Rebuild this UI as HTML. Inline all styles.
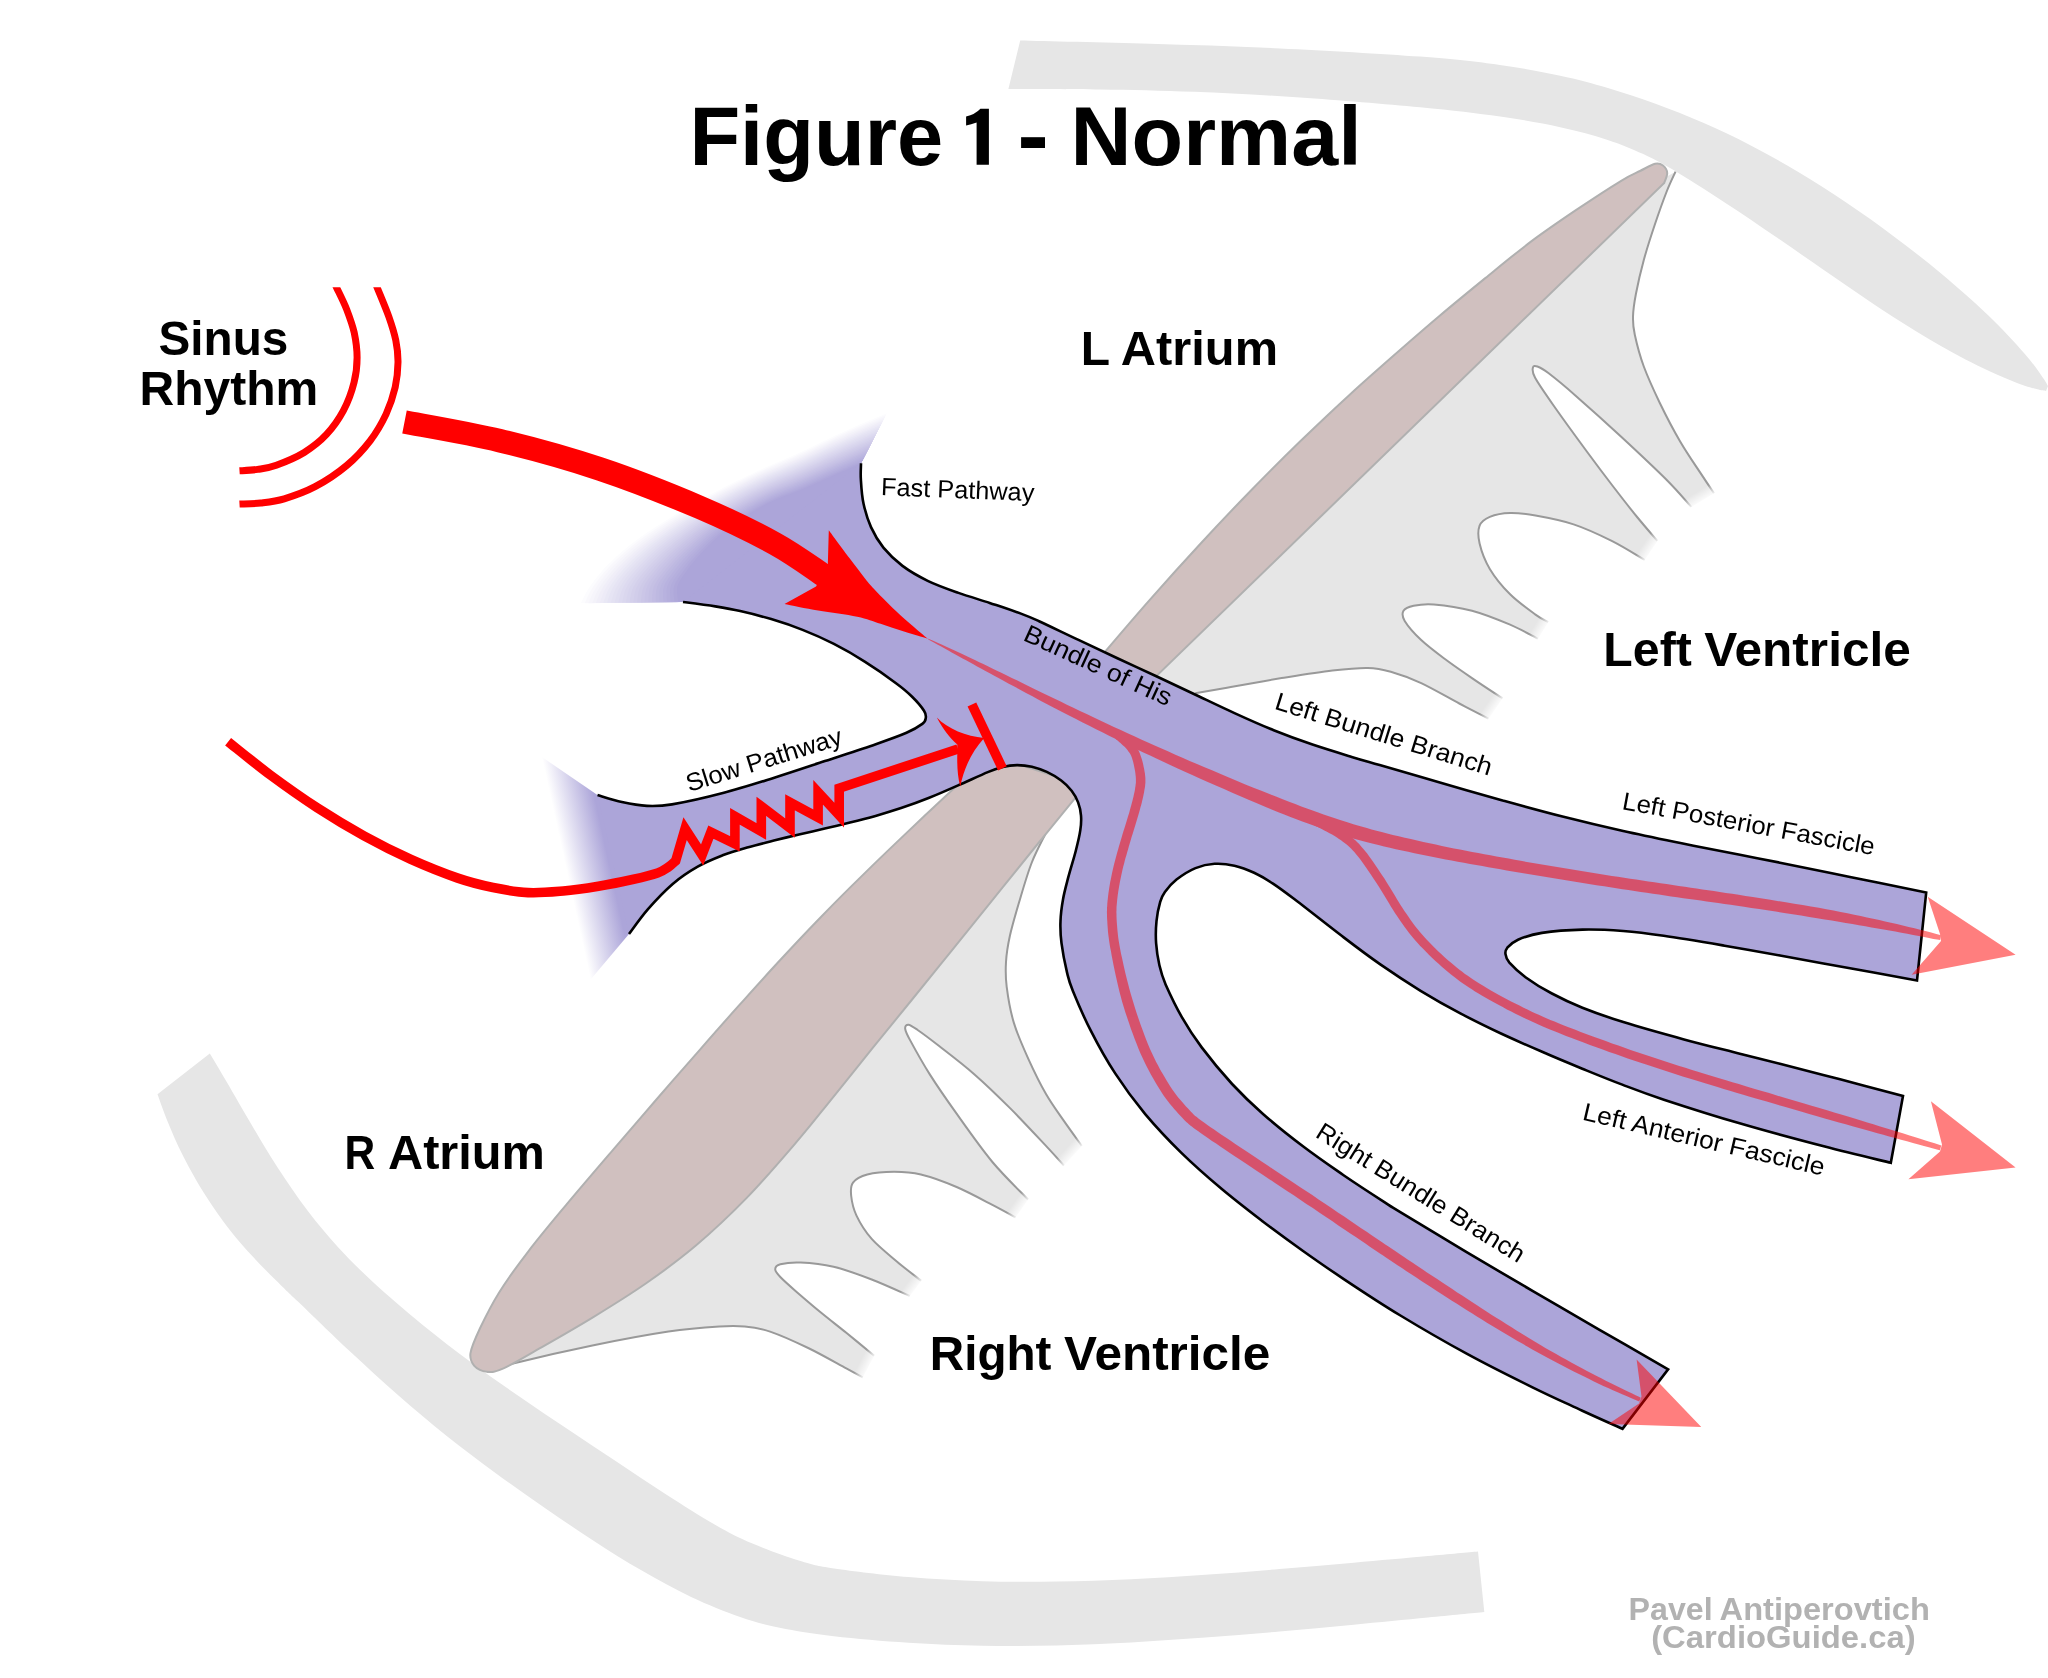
<!DOCTYPE html>
<html><head><meta charset="utf-8"><title>Figure 1 - Normal</title>
<style>
html,body{margin:0;padding:0;background:#fff;}
body{width:2048px;height:1678px;overflow:hidden;}
svg{display:block;font-family:"Liberation Sans",sans-serif;}
</style></head>
<body>
<svg width="2048" height="1678" viewBox="0 0 2048 1678">
<rect width="2048" height="1678" fill="#ffffff"/>
<path d="M1020.2 40.5C1041.8 41 1106.7 42.5 1150 43.8C1193.3 45.1 1235 46.3 1280 48.4C1325.1 50.5 1383.4 53.8 1420.1 56.6C1456.7 59.3 1476.5 61.8 1499.8 65C1523.2 68.2 1542.2 71.9 1560.2 75.7C1578.2 79.5 1592 83.3 1607.9 87.9C1623.8 92.6 1639.6 97.9 1655.5 103.7C1671.3 109.5 1687.3 115.8 1703.2 122.8C1719 129.7 1734.9 137.2 1750.8 145.5C1766.6 153.7 1782.4 162.5 1798.3 172C1814.2 181.5 1830.2 191.8 1846.2 202.6C1862.2 213.3 1878.3 224.8 1894.2 236.7C1910.1 248.6 1926 260.8 1941.7 273.9C1957.4 287 1974.7 302.3 1988.4 315.5C2002.2 328.7 2015.2 342.9 2024.2 353.2C2033.3 363.5 2038.8 371.9 2042.7 377.4C2046.7 382.8 2047.1 384.6 2048 386L2046 391C2044.4 390.7 2042.1 390.7 2036.6 389.1C2031 387.5 2024.7 386.2 2012.8 381.2C2001 376.3 1981.4 367.6 1965.5 359.4C1949.5 351.2 1933.2 341.7 1917.2 332C1901.2 322.3 1885.3 311.7 1869.4 301.2C1853.5 290.6 1837.8 279.6 1822 268.7C1806.1 257.9 1790.4 246.8 1774.6 236C1758.8 225.2 1742.9 214.2 1727 203.9C1711.1 193.5 1693.4 182 1679.5 173.7C1665.5 165.4 1655.3 159.8 1643.3 154.1C1631.3 148.5 1621.5 144.4 1607.7 139.9C1593.8 135.4 1578.1 131 1560.2 127.2C1542.3 123.3 1523.4 119.9 1500.1 116.6C1476.7 113.3 1453.4 110.5 1420.1 107.3C1386.7 104.1 1337.7 100.1 1300.1 97.5C1262.5 94.9 1227.7 93.1 1194.4 91.8C1161 90.4 1131 89.9 1100 89.4C1069 88.9 1023.7 89 1008.4 88.9Z" fill="#e6e6e6"/>
<path d="M209.8 1053.6C212.6 1058.2 219.2 1069.2 226.3 1081.3C233.4 1093.4 244 1112 252.6 1126.4C261.1 1140.8 268.5 1153.6 277.6 1167.6C286.8 1181.6 297.4 1197.3 307.5 1210.6C317.6 1223.9 327.2 1235.4 338.1 1247.2C349 1259.1 358.9 1269 372.9 1281.9C386.9 1294.7 405.8 1311 422.1 1324.4C438.5 1337.7 454.8 1350.2 471 1362.2C487.3 1374.3 503.4 1385.5 519.7 1396.7C535.9 1408 552.3 1418.8 568.6 1429.7C584.8 1440.6 600.9 1451.3 617.1 1462.1C633.3 1472.9 649.4 1483.8 665.8 1494.2C682.2 1504.7 701 1516.7 715.5 1524.9C729.9 1533.1 738.4 1537.5 752.5 1543.5C766.5 1549.5 786.2 1556.6 799.7 1560.8C813.3 1565 815.8 1565.8 834 1568.5C852.1 1571.2 883.6 1575 908.4 1577.1C933.2 1579.2 957.8 1580.5 982.6 1581.2C1007.3 1582 1032.1 1582 1056.9 1581.6C1081.6 1581.3 1106.4 1580.3 1131.1 1579.2C1155.8 1578 1180.6 1576.4 1205.3 1574.7C1230 1573.1 1254.8 1571.1 1279.5 1569.1C1304.2 1567.1 1329 1564.9 1353.7 1562.8C1378.5 1560.6 1407.2 1558 1427.9 1556.1C1448.6 1554.3 1469.7 1552.4 1478 1551.6L1484.3 1612.1C1474.9 1613 1449.7 1615.5 1427.9 1617.6C1406.2 1619.7 1378.4 1622.4 1353.7 1624.7C1329 1627 1304.2 1629.3 1279.5 1631.5C1254.8 1633.6 1230 1635.7 1205.3 1637.6C1180.6 1639.4 1155.9 1641.1 1131.1 1642.5C1106.4 1643.8 1081.6 1644.9 1056.9 1645.5C1032.1 1646 1007.3 1646.2 982.6 1645.7C957.8 1645.3 933.2 1644.3 908.4 1642.7C883.6 1641.1 855.3 1638.7 833.9 1636.2C812.5 1633.7 795.4 1630.9 779.7 1627.7C764.1 1624.5 754.8 1622.1 740.1 1617C725.3 1611.8 707.5 1604.6 691.1 1596.9C674.7 1589.1 658.1 1580.1 641.8 1570.6C625.4 1561.2 609.1 1550.8 592.8 1540.2C576.5 1529.6 560.1 1518.5 543.8 1507.2C527.6 1496 511.4 1484.6 495.1 1472.7C478.9 1460.7 462.5 1448.5 446.4 1435.7C430.3 1422.8 414.7 1409.8 398.5 1395.6C382.3 1381.5 366.1 1366.4 349.3 1350.8C332.6 1335.2 310.4 1313.6 298.2 1301.8C285.9 1290.1 283.4 1287.7 275.9 1280.2C268.4 1272.8 260.9 1265.5 253.2 1257C245.4 1248.6 237.4 1239.7 229.4 1229.4C221.4 1219.1 213.1 1207.6 205.4 1195.3C197.6 1183 189.3 1168 183 1155.7C176.7 1143.4 171.9 1131.7 167.6 1121.4C163.4 1111.2 159.2 1098.7 157.5 1094.2Z" fill="#e6e6e6"/>
<path d="M1675.5 171.7C1674 175.1 1669.9 183.3 1666.5 192C1663.1 200.7 1658.9 212.5 1655.1 223.8C1651.3 235.1 1647 248.3 1643.8 260C1640.6 271.7 1637.7 284.6 1635.9 294C1634.1 303.4 1633.2 309.8 1633 316.6C1632.8 323.4 1633 326.5 1634.8 334.8C1636.6 343.1 1639.6 355.2 1643.8 366.5C1648 377.8 1653.7 390.2 1659.7 402.7C1665.7 415.1 1673.2 429.5 1680 441.2C1686.8 452.9 1694.7 464.2 1700.4 472.9C1706.1 481.6 1711.7 489.9 1714 493.3L1691.4 506.9C1687.2 502.4 1678.2 491.4 1666.5 479.7C1654.8 468 1636.3 450.7 1621.2 436.7C1606.1 422.7 1588 406.5 1575.9 395.9C1563.8 385.3 1555.1 378.2 1548.7 373.3C1542.3 368.4 1540 367.4 1537.4 366.5C1534.8 365.6 1533.3 365.7 1532.9 367.6C1532.5 369.5 1531.7 371.6 1535.1 377.8C1538.5 384 1544.5 392.6 1553.2 405C1561.9 417.4 1577.4 438.7 1587.2 452C1597 465.3 1603.7 474.2 1612 485C1620.3 495.8 1629.5 507.7 1637.1 517C1644.7 526.3 1654 536.9 1657.4 540.9L1644.7 560C1639.2 556.8 1623.6 546.8 1611.7 540.9C1599.8 535 1586.3 528.6 1573.6 524.4C1560.9 520.2 1546.1 517.5 1535.5 515.6C1524.9 513.7 1517.7 512.8 1510.1 513C1502.5 513.2 1494.9 514.7 1489.8 516.8C1484.7 518.9 1481.3 521.2 1479.6 525.7C1477.9 530.2 1477.9 536.3 1479.6 543.5C1481.3 550.7 1484.7 560.4 1489.8 568.9C1494.9 577.4 1502.5 586.7 1510.1 594.3C1517.7 601.9 1529.2 610 1535.5 614.6C1541.8 619.2 1546.1 620.9 1548.2 622.2L1538 638.7C1533.3 636.4 1521.1 629.4 1510.1 624.7C1499.1 620.1 1484.7 614.2 1472 610.8C1459.3 607.4 1443.6 605.2 1433.9 604.4C1424.2 603.5 1418.7 604.6 1413.6 605.7C1408.5 606.8 1405 608.3 1403.5 610.8C1402 613.3 1401.8 616 1404.7 620.9C1407.7 625.8 1414.2 633.4 1421.2 640C1428.2 646.6 1438.1 653.9 1446.6 660.3C1455.1 666.6 1462.7 671.8 1472 678.1C1481.3 684.5 1497.4 695 1502.5 698.4L1488.5 718.7C1483.6 716.2 1470.5 709.4 1459.3 703.5C1448.1 697.6 1432.6 688.4 1421.2 683.1C1409.8 677.8 1399.7 674.2 1390.8 671.7C1381.9 669.2 1377.6 668.1 1367.9 667.9C1358.2 667.7 1346.8 668.8 1332.4 670.5C1318 672.2 1298.5 675.4 1281.6 678.1C1264.7 680.9 1245.2 684.5 1230.8 687C1216.4 689.5 1201.1 692.2 1195.2 693.3L1140 692L1666 177Z" fill="#e6e6e6"/>
<path d="M1675.5 171.7C1674 175.1 1669.9 183.3 1666.5 192C1663.1 200.7 1658.9 212.5 1655.1 223.8C1651.3 235.1 1647 248.3 1643.8 260C1640.6 271.7 1637.7 284.6 1635.9 294C1634.1 303.4 1633.2 309.8 1633 316.6C1632.8 323.4 1633 326.5 1634.8 334.8C1636.6 343.1 1639.6 355.2 1643.8 366.5C1648 377.8 1653.7 390.2 1659.7 402.7C1665.7 415.1 1673.2 429.5 1680 441.2C1686.8 452.9 1694.7 464.2 1700.4 472.9C1706.1 481.6 1711.7 489.9 1714 493.3M1691.4 506.9C1687.2 502.4 1678.2 491.4 1666.5 479.7C1654.8 468 1636.3 450.7 1621.2 436.7C1606.1 422.7 1588 406.5 1575.9 395.9C1563.8 385.3 1555.1 378.2 1548.7 373.3C1542.3 368.4 1540 367.4 1537.4 366.5C1534.8 365.6 1533.3 365.7 1532.9 367.6C1532.5 369.5 1531.7 371.6 1535.1 377.8C1538.5 384 1544.5 392.6 1553.2 405C1561.9 417.4 1577.4 438.7 1587.2 452C1597 465.3 1603.7 474.2 1612 485C1620.3 495.8 1629.5 507.7 1637.1 517C1644.7 526.3 1654 536.9 1657.4 540.9M1644.7 560C1639.2 556.8 1623.6 546.8 1611.7 540.9C1599.8 535 1586.3 528.6 1573.6 524.4C1560.9 520.2 1546.1 517.5 1535.5 515.6C1524.9 513.7 1517.7 512.8 1510.1 513C1502.5 513.2 1494.9 514.7 1489.8 516.8C1484.7 518.9 1481.3 521.2 1479.6 525.7C1477.9 530.2 1477.9 536.3 1479.6 543.5C1481.3 550.7 1484.7 560.4 1489.8 568.9C1494.9 577.4 1502.5 586.7 1510.1 594.3C1517.7 601.9 1529.2 610 1535.5 614.6C1541.8 619.2 1546.1 620.9 1548.2 622.2M1538 638.7C1533.3 636.4 1521.1 629.4 1510.1 624.7C1499.1 620.1 1484.7 614.2 1472 610.8C1459.3 607.4 1443.6 605.2 1433.9 604.4C1424.2 603.5 1418.7 604.6 1413.6 605.7C1408.5 606.8 1405 608.3 1403.5 610.8C1402 613.3 1401.8 616 1404.7 620.9C1407.7 625.8 1414.2 633.4 1421.2 640C1428.2 646.6 1438.1 653.9 1446.6 660.3C1455.1 666.6 1462.7 671.8 1472 678.1C1481.3 684.5 1497.4 695 1502.5 698.4M1488.5 718.7C1483.6 716.2 1470.5 709.4 1459.3 703.5C1448.1 697.6 1432.6 688.4 1421.2 683.1C1409.8 677.8 1399.7 674.2 1390.8 671.7C1381.9 669.2 1377.6 668.1 1367.9 667.9C1358.2 667.7 1346.8 668.8 1332.4 670.5C1318 672.2 1298.5 675.4 1281.6 678.1C1264.7 680.9 1245.2 684.5 1230.8 687C1216.4 689.5 1201.1 692.2 1195.2 693.3" fill="none" stroke="#999999" stroke-width="2"/>
<path d="M1045 834.7C1042.8 839.3 1036 851.8 1031.8 862.5C1027.6 873.2 1023.6 887 1020 899.2C1016.4 911.4 1012.2 925.3 1009.9 935.8C1007.6 946.3 1006.5 953.5 1006 962C1005.5 970.5 1005.4 976.7 1006.7 986.8C1008 996.9 1010.2 1010.7 1013.8 1022.6C1017.4 1034.5 1022.7 1046.4 1028.1 1058.3C1033.5 1070.2 1040 1083.6 1046 1094C1052 1104.4 1057.9 1112.2 1063.9 1120.9C1069.9 1129.6 1078.8 1141.7 1081.8 1145.9L1063.9 1165.6C1060.9 1162.3 1054.9 1155.4 1046 1145.9C1037.1 1136.4 1022.2 1120.3 1010.3 1108.4C998.4 1096.5 986.4 1084.8 974.5 1074.4C962.6 1064 948.3 1053.2 938.8 1045.8C929.3 1038.3 922.4 1033.2 917.3 1029.7C912.2 1026.2 910.4 1024.9 908.4 1024.7C906.4 1024.5 904.9 1026.2 905.2 1028.8C905.5 1031.4 906.1 1032.8 910.2 1040.4C914.3 1048 922.1 1062.2 929.8 1074.4C937.5 1086.6 946.2 1099.1 956.6 1113.7C967 1128.3 980.5 1147.7 992.4 1162C1004.3 1176.3 1022.1 1193.2 1028.1 1199.5L1015.6 1217.4C1011.7 1215.3 1002.2 1210 992.4 1204.9C982.6 1199.8 968.5 1192.1 956.6 1187C944.7 1181.9 931.3 1177 920.9 1174.5C910.5 1172 903 1171.8 894.1 1171.8C885.2 1171.8 874.1 1172.7 867.3 1174.5C860.4 1176.3 855.7 1179 853 1182.6C850.3 1186.2 850.6 1190.5 851.2 1196C851.8 1201.5 853.1 1208.4 856.5 1215.6C859.9 1222.8 864.9 1231.2 871.7 1238.9C878.5 1246.6 888.9 1254.7 897.1 1261.7C905.4 1268.7 917.2 1277.6 921.2 1280.8L909.8 1296C903.4 1293.2 884.4 1284.4 871.7 1279.5C859 1274.6 845.5 1269.6 833.6 1266.8C821.8 1264 809.5 1262.9 800.6 1262.5C791.7 1262.1 784.5 1263.2 780.3 1264.3C776.1 1265.4 775.2 1267.2 775.2 1269.3C775.2 1271.4 776.9 1273.4 780.3 1277C783.7 1280.6 788.7 1285 795.5 1290.9C802.3 1296.8 812.4 1305.5 820.9 1312.5C829.4 1319.5 837.4 1325.6 846.3 1332.8C855.2 1340 869.6 1351.9 874.2 1355.7L862.8 1377.3C860 1375.8 855.4 1373.3 846.3 1368.4C837.2 1363.5 820.9 1354.1 808.2 1348C795.5 1341.9 780.7 1335.2 770.1 1331.6C759.5 1328 753.2 1327.3 744.7 1326.5C736.2 1325.7 732 1325.7 719.3 1326.5C706.6 1327.3 689.6 1328.4 668.5 1331.6C647.4 1334.8 617.8 1340.3 592.4 1345.5C567 1350.7 533.8 1358.4 516.2 1362.8C498.6 1367.2 491.9 1370.2 487 1371.7L560 1290L1075 798Z" fill="#e6e6e6"/>
<path d="M1045 834.7C1042.8 839.3 1036 851.8 1031.8 862.5C1027.6 873.2 1023.6 887 1020 899.2C1016.4 911.4 1012.2 925.3 1009.9 935.8C1007.6 946.3 1006.5 953.5 1006 962C1005.5 970.5 1005.4 976.7 1006.7 986.8C1008 996.9 1010.2 1010.7 1013.8 1022.6C1017.4 1034.5 1022.7 1046.4 1028.1 1058.3C1033.5 1070.2 1040 1083.6 1046 1094C1052 1104.4 1057.9 1112.2 1063.9 1120.9C1069.9 1129.6 1078.8 1141.7 1081.8 1145.9M1063.9 1165.6C1060.9 1162.3 1054.9 1155.4 1046 1145.9C1037.1 1136.4 1022.2 1120.3 1010.3 1108.4C998.4 1096.5 986.4 1084.8 974.5 1074.4C962.6 1064 948.3 1053.2 938.8 1045.8C929.3 1038.3 922.4 1033.2 917.3 1029.7C912.2 1026.2 910.4 1024.9 908.4 1024.7C906.4 1024.5 904.9 1026.2 905.2 1028.8C905.5 1031.4 906.1 1032.8 910.2 1040.4C914.3 1048 922.1 1062.2 929.8 1074.4C937.5 1086.6 946.2 1099.1 956.6 1113.7C967 1128.3 980.5 1147.7 992.4 1162C1004.3 1176.3 1022.1 1193.2 1028.1 1199.5M1015.6 1217.4C1011.7 1215.3 1002.2 1210 992.4 1204.9C982.6 1199.8 968.5 1192.1 956.6 1187C944.7 1181.9 931.3 1177 920.9 1174.5C910.5 1172 903 1171.8 894.1 1171.8C885.2 1171.8 874.1 1172.7 867.3 1174.5C860.4 1176.3 855.7 1179 853 1182.6C850.3 1186.2 850.6 1190.5 851.2 1196C851.8 1201.5 853.1 1208.4 856.5 1215.6C859.9 1222.8 864.9 1231.2 871.7 1238.9C878.5 1246.6 888.9 1254.7 897.1 1261.7C905.4 1268.7 917.2 1277.6 921.2 1280.8M909.8 1296C903.4 1293.2 884.4 1284.4 871.7 1279.5C859 1274.6 845.5 1269.6 833.6 1266.8C821.8 1264 809.5 1262.9 800.6 1262.5C791.7 1262.1 784.5 1263.2 780.3 1264.3C776.1 1265.4 775.2 1267.2 775.2 1269.3C775.2 1271.4 776.9 1273.4 780.3 1277C783.7 1280.6 788.7 1285 795.5 1290.9C802.3 1296.8 812.4 1305.5 820.9 1312.5C829.4 1319.5 837.4 1325.6 846.3 1332.8C855.2 1340 869.6 1351.9 874.2 1355.7M862.8 1377.3C860 1375.8 855.4 1373.3 846.3 1368.4C837.2 1363.5 820.9 1354.1 808.2 1348C795.5 1341.9 780.7 1335.2 770.1 1331.6C759.5 1328 753.2 1327.3 744.7 1326.5C736.2 1325.7 732 1325.7 719.3 1326.5C706.6 1327.3 689.6 1328.4 668.5 1331.6C647.4 1334.8 617.8 1340.3 592.4 1345.5C567 1350.7 533.8 1358.4 516.2 1362.8C498.6 1367.2 491.9 1370.2 487 1371.7" fill="none" stroke="#999999" stroke-width="2"/>
<linearGradient id="fd6" gradientUnits="userSpaceOnUse" x1="1697.5" y1="491.5" x2="1703.7" y2="501.8"><stop offset="0" stop-color="#fff" stop-opacity="0"/><stop offset="1" stop-color="#fff"/></linearGradient>
<path d="M1682 500.9L1713.1 482.2L1726.5 504.4L1695.4 523.2Z" fill="url(#fd6)"/>
<linearGradient id="fd8" gradientUnits="userSpaceOnUse" x1="1642.7" y1="544.9" x2="1652.7" y2="551.6"><stop offset="0" stop-color="#fff" stop-opacity="0"/><stop offset="1" stop-color="#fff"/></linearGradient>
<path d="M1633.6 558.6L1651.8 531.2L1673.5 545.6L1655.3 573Z" fill="url(#fd8)"/>
<linearGradient id="fd10" gradientUnits="userSpaceOnUse" x1="1534.6" y1="625.2" x2="1544.8" y2="631.5"><stop offset="0" stop-color="#fff" stop-opacity="0"/><stop offset="1" stop-color="#fff"/></linearGradient>
<path d="M1526.9 637.7L1542.3 612.7L1564.4 626.4L1549 651.4Z" fill="url(#fd10)"/>
<linearGradient id="fd12" gradientUnits="userSpaceOnUse" x1="1487.3" y1="702.9" x2="1497.1" y2="709.7"><stop offset="0" stop-color="#fff" stop-opacity="0"/><stop offset="1" stop-color="#fff"/></linearGradient>
<path d="M1477.4 717.1L1497.1 688.6L1518.5 703.4L1498.8 731.9Z" fill="url(#fd12)"/>
<linearGradient id="fd14" gradientUnits="userSpaceOnUse" x1="1065.4" y1="1149" x2="1074.3" y2="1157.1"><stop offset="0" stop-color="#fff" stop-opacity="0"/><stop offset="1" stop-color="#fff"/></linearGradient>
<path d="M1053.1 1162.6L1077.8 1135.5L1097 1153L1072.4 1180.1Z" fill="url(#fd14)"/>
<linearGradient id="fd16" gradientUnits="userSpaceOnUse" x1="1013.7" y1="1202.7" x2="1023.5" y2="1209.6"><stop offset="0" stop-color="#fff" stop-opacity="0"/><stop offset="1" stop-color="#fff"/></linearGradient>
<path d="M1004.5 1215.8L1022.8 1189.7L1044.1 1204.6L1025.9 1230.7Z" fill="url(#fd16)"/>
<linearGradient id="fd18" gradientUnits="userSpaceOnUse" x1="907.5" y1="1282.4" x2="917.1" y2="1289.6"><stop offset="0" stop-color="#fff" stop-opacity="0"/><stop offset="1" stop-color="#fff"/></linearGradient>
<path d="M898.8 1294L916.2 1270.8L937 1286.4L919.6 1309.6Z" fill="url(#fd18)"/>
<linearGradient id="fd20" gradientUnits="userSpaceOnUse" x1="859.7" y1="1361.8" x2="870.3" y2="1367.4"><stop offset="0" stop-color="#fff" stop-opacity="0"/><stop offset="1" stop-color="#fff"/></linearGradient>
<path d="M851.6 1377.1L867.7 1346.6L890.7 1358.7L874.6 1389.2Z" fill="url(#fd20)"/>
<path d="M1085 675.9C1088.5 671.7 1095.4 663.2 1106.2 650.5C1117 637.8 1134.4 617.4 1150 599.7C1165.6 581.9 1183.3 562.2 1200 544.2C1216.7 526.1 1233.3 508.6 1250 491.5C1266.7 474.4 1283.3 457.7 1300 441.5C1316.7 425.4 1333.3 409.6 1350 394.4C1366.7 379.1 1385 363.1 1400 350C1415 336.9 1425.8 327.5 1440 315.5C1454.2 303.5 1470.2 290.4 1485.3 278.1C1500.4 265.8 1515.5 253.2 1530.6 241.9C1545.7 230.6 1560.8 220.4 1575.9 210.2C1591 200 1610.5 187.3 1621.2 180.8C1631.9 174.3 1634.3 173.8 1640 171C1645.7 168.2 1651.3 164.7 1655.1 163.8C1658.9 162.9 1661 164 1663 165.5C1665 167 1667 170.1 1667.2 173C1667.4 175.9 1664.7 181.3 1664.2 183L1140 692Z" fill="#d0c0bf" stroke="#b0b0b0" stroke-width="2"/>
<path d="M1085 786C1083.3 788 1083.5 787.7 1075.1 798.1C1066.7 808.4 1048 831.3 1034.4 848C1020.9 864.8 1007.2 881.7 993.6 898.6C980 915.5 966.4 932.4 952.7 949.3C939 966.2 925.1 983.4 911.7 1000C898.2 1016.6 885.1 1032.7 871.9 1048.9C858.8 1065.2 845.3 1082.2 832.8 1097.6C820.2 1113.1 811.1 1125.1 796.8 1141.7C782.5 1158.4 764 1180.1 747.2 1197.4C730.4 1214.7 712.8 1231.2 695.9 1245.6C679 1259.9 662.9 1271.6 645.8 1283.5C628.7 1295.4 610.8 1306.4 593.3 1317.1C575.8 1327.8 555.8 1339.2 540.9 1347.7C525.9 1356.3 512.5 1364.4 503.5 1368.4C494.5 1372.4 491.9 1372.1 487 1371.7C482.1 1371.3 477.1 1368.9 474.3 1365.8C471.6 1362.7 469.6 1359.3 470.5 1353.1C471.4 1346.9 475.2 1338.5 479.9 1328.5C484.7 1318.4 491 1305.5 499 1292.7C507.1 1279.8 517.2 1265.8 528.4 1251.3C539.5 1236.7 551.9 1222 566 1205.1C580.1 1188.2 597.8 1167.6 612.8 1150.1C627.8 1132.6 641.5 1116.7 656 1100C670.5 1083.3 685.8 1065.7 699.8 1049.8C713.7 1033.9 726.3 1019.6 739.7 1004.7C753.1 989.8 766.6 974.7 780 960.3C793.4 945.8 806.7 931.7 820 918C833.3 904.2 846.5 891 859.9 877.9C873.2 864.7 885 853.4 900 839.1C915 824.8 934.8 806.3 949.8 792.2C964.8 778.2 983.3 761.2 990 755Z" fill="#d0c0bf" stroke="#b0b0b0" stroke-width="2"/>
<path d="M887.9 411.3L883.2 413.3L876.6 416L868.9 419.3L860.5 422.8L852.1 426.4L844.3 429.9L837 433.3L829.6 436.8L822.2 440.4L814.8 444.1L807.3 447.7L799.8 451.2L792.2 454.6L784.5 458L776.7 461.3L768.9 464.6L761.2 468L753.4 471.6L745.6 475.3L737.6 479.2L729.6 483.1L721.8 487.1L714.2 491L707 494.8L700.3 498.4L693.9 502L687.9 505.4L681.9 508.9L676 512.5L669.9 516.2L663.6 520.1L657.2 524L650.8 528.1L644.5 532.2L638.5 536.3L632.8 540.3L627.5 544.3L622.5 548.4L617.7 552.5L613.2 556.5L608.9 560.5L604.9 564.4L601.2 568.3L597.7 572.2L594.5 576L591.5 579.7L588.8 583.3L586.4 586.7L584.2 590L582.3 593.3L580.6 596.4L579.2 599.3L578 601.6L577.1 603.4L683 602L700 600L861 463.3Z" fill="#ffffff"/>
<path d="M886.9 413.2L882.2 415.2L875.7 417.9L868.1 421.1L859.8 424.6L851.5 428.2L843.8 431.7L836.5 435L829.2 438.5L821.9 442L814.6 445.6L807.2 449.2L799.8 452.6L792.3 456L784.7 459.3L777.1 462.6L769.4 465.8L761.7 469.2L754.1 472.7L746.4 476.4L738.5 480.2L730.7 484.1L722.9 488L715.5 491.9L708.4 495.6L701.7 499.2L695.5 502.8L689.5 506.2L683.6 509.7L677.7 513.3L671.7 517L665.5 520.8L659.2 524.8L652.9 528.8L646.7 532.8L640.8 536.9L635.2 540.9L630 544.9L625.1 548.9L620.4 553L615.9 556.9L611.8 560.9L607.9 564.7L604.2 568.6L600.8 572.4L597.7 576.2L594.8 579.8L592.1 583.4L589.8 586.7L587.6 590L585.8 593.3L584.2 596.4L582.8 599.2L581.7 601.6L580.8 603.3L683 602L700 600L861 463.3Z" fill="#fcfcfe"/>
<path d="M885.9 415.2L881.3 417.1L874.9 419.8L867.3 423L859.1 426.5L850.9 430L843.2 433.4L836 436.7L828.8 440.2L821.6 443.7L814.4 447.2L807.1 450.7L799.8 454.1L792.4 457.4L784.9 460.6L777.4 463.8L769.8 467L762.3 470.4L754.8 473.8L747.2 477.4L739.4 481.2L731.7 485L724.1 488.9L716.7 492.7L709.7 496.5L703.2 500L697 503.5L691 507L685.2 510.5L679.4 514L673.5 517.7L667.4 521.5L661.1 525.5L654.9 529.5L648.9 533.5L643.1 537.6L637.6 541.5L632.5 545.5L627.7 549.5L623.1 553.5L618.7 557.4L614.6 561.3L610.8 565.1L607.2 568.9L603.9 572.6L600.8 576.3L598 579.9L595.4 583.4L593.1 586.7L591.1 589.9L589.3 593.2L587.8 596.3L586.5 599.2L585.4 601.5L584.6 603.3L683 602L700 600L861 463.3Z" fill="#f9f8fc"/>
<path d="M884.9 417.1L880.3 419L874 421.7L866.5 424.8L858.4 428.3L850.2 431.8L842.7 435.2L835.6 438.4L828.5 441.8L821.4 445.3L814.2 448.7L807 452.2L799.8 455.5L792.5 458.8L785.1 462L777.7 465.1L770.3 468.3L762.9 471.5L755.5 474.9L748 478.5L740.4 482.2L732.8 486L725.3 489.8L718 493.6L711.1 497.3L704.6 500.8L698.5 504.3L692.6 507.8L686.9 511.3L681.1 514.8L675.3 518.5L669.2 522.3L663.1 526.2L657 530.2L651.1 534.2L645.4 538.2L640 542.2L635 546.1L630.3 550L625.8 553.9L621.5 557.8L617.5 561.7L613.8 565.4L610.3 569.1L607 572.8L604 576.5L601.2 580L598.7 583.5L596.5 586.7L594.5 589.9L592.8 593.2L591.3 596.3L590.1 599.1L589.1 601.5L588.3 603.2L683 602L700 600L861 463.3Z" fill="#f6f5fb"/>
<path d="M883.9 419L879.4 420.9L873.1 423.6L865.7 426.7L857.6 430.1L849.6 433.6L842.1 436.9L835.1 440.1L828.1 443.5L821.1 446.9L814 450.3L806.9 453.7L799.8 457L792.6 460.2L785.4 463.3L778.1 466.4L770.8 469.5L763.4 472.7L756.2 476L748.8 479.5L741.3 483.2L733.8 486.9L726.4 490.7L719.3 494.4L712.5 498.1L706.1 501.7L700 505.1L694.2 508.6L688.5 512L682.8 515.6L677 519.2L671.1 523L665.1 526.9L659.1 530.9L653.3 534.9L647.7 538.9L642.4 542.8L637.5 546.7L632.9 550.6L628.5 554.4L624.3 558.3L620.4 562.1L616.7 565.8L613.3 569.4L610.1 573.1L607.2 576.7L604.5 580.1L602 583.5L599.9 586.7L598 589.9L596.3 593.1L594.9 596.2L593.8 599L592.8 601.4L592.1 603.1L683 602L700 600L861 463.3Z" fill="#f3f2f9"/>
<path d="M882.9 420.9L878.4 422.8L872.2 425.5L864.8 428.6L856.9 431.9L849 435.4L841.6 438.7L834.6 441.8L827.7 445.1L820.8 448.5L813.8 451.8L806.8 455.2L799.8 458.4L792.7 461.6L785.6 464.6L778.4 467.6L771.2 470.7L764 473.8L756.8 477.1L749.6 480.6L742.2 484.2L734.9 487.9L727.6 491.6L720.6 495.3L713.9 498.9L707.6 502.5L701.6 505.9L695.8 509.4L690.1 512.8L684.5 516.3L678.8 520L673 523.8L667.1 527.6L661.2 531.6L655.5 535.6L650 539.5L644.8 543.4L640 547.2L635.5 551.1L631.2 554.9L627.1 558.7L623.3 562.5L619.7 566.1L616.3 569.7L613.2 573.3L610.3 576.8L607.7 580.2L605.4 583.5L603.2 586.7L601.4 589.9L599.8 593.1L598.5 596.2L597.4 599L596.5 601.3L595.8 603L683 602L700 600L861 463.3Z" fill="#f0eef8"/>
<path d="M881.9 422.9L877.5 424.7L871.3 427.3L864 430.4L856.2 433.8L848.3 437.2L841 440.4L834.2 443.6L827.3 446.8L820.5 450.1L813.6 453.4L806.7 456.7L799.8 459.9L792.8 462.9L785.8 465.9L778.7 468.9L771.7 471.9L764.6 475L757.5 478.2L750.4 481.6L743.2 485.2L735.9 488.8L728.8 492.5L721.8 496.2L715.2 499.8L709 503.3L703.1 506.7L697.4 510.1L691.8 513.6L686.2 517.1L680.6 520.7L674.9 524.5L669.1 528.4L663.3 532.3L657.7 536.2L652.3 540.2L647.2 544L642.5 547.8L638.1 551.6L633.8 555.4L629.9 559.2L626.1 562.9L622.6 566.5L619.4 570L616.3 573.5L613.5 577L611 580.3L608.7 583.6L606.6 586.7L604.8 589.8L603.3 593L602.1 596.1L601.1 598.9L600.2 601.3L599.6 603L683 602L700 600L861 463.3Z" fill="#edebf7"/>
<path d="M880.9 424.8L876.5 426.7L870.4 429.2L863.2 432.3L855.5 435.6L847.7 439L840.5 442.2L833.7 445.3L827 448.5L820.2 451.7L813.4 454.9L806.6 458.2L799.8 461.3L792.9 464.3L786 467.3L779.1 470.2L772.1 473.1L765.2 476.1L758.2 479.3L751.2 482.7L744.1 486.2L737 489.8L729.9 493.4L723.1 497L716.6 500.6L710.5 504.1L704.6 507.5L699 510.9L693.4 514.4L687.9 517.9L682.4 521.5L676.7 525.2L671 529.1L665.4 533L659.8 536.9L654.6 540.8L649.6 544.6L645 548.4L640.7 552.2L636.5 555.9L632.7 559.6L629 563.3L625.6 566.8L622.4 570.3L619.4 573.7L616.7 577.1L614.2 580.4L612 583.6L610 586.7L608.3 589.8L606.8 593L605.7 596L604.7 598.8L603.9 601.2L603.3 602.9L683 602L700 600L861 463.3Z" fill="#e9e8f5"/>
<path d="M879.9 426.7L875.6 428.6L869.6 431.1L862.4 434.1L854.7 437.4L847.1 440.8L839.9 443.9L833.2 447L826.6 450.1L819.9 453.3L813.2 456.5L806.5 459.7L799.8 462.8L793 465.7L786.2 468.6L779.4 471.4L772.6 474.3L765.7 477.3L758.9 480.4L752 483.7L745 487.2L738 490.7L731.1 494.3L724.4 497.9L718 501.4L711.9 504.9L706.1 508.3L700.5 511.7L695.1 515.1L689.6 518.6L684.2 522.2L678.6 526L673 529.8L667.5 533.7L662 537.6L656.9 541.5L652 545.2L647.5 549L643.3 552.7L639.2 556.4L635.4 560.1L631.9 563.7L628.5 567.2L625.4 570.6L622.5 574L619.9 577.3L617.4 580.5L615.3 583.7L613.3 586.7L611.7 589.8L610.3 592.9L609.2 596L608.4 598.8L607.6 601.1L607.1 602.8L683 602L700 600L861 463.3Z" fill="#e6e4f4"/>
<path d="M878.9 428.6L874.6 430.5L868.7 433L861.6 436L854 439.2L846.4 442.5L839.4 445.7L832.8 448.7L826.2 451.8L819.6 454.9L813 458.1L806.4 461.2L799.8 464.2L793.1 467.1L786.4 469.9L779.7 472.7L773 475.5L766.3 478.4L759.6 481.5L752.8 484.8L745.9 488.2L739.1 491.6L732.3 495.2L725.7 498.7L719.4 502.2L713.4 505.7L707.7 509.1L702.1 512.5L696.7 515.9L691.3 519.4L686 523L680.5 526.7L675 530.5L669.5 534.4L664.2 538.3L659.2 542.1L654.4 545.9L650 549.6L645.9 553.3L641.9 556.9L638.2 560.5L634.8 564L631.5 567.5L628.5 570.9L625.6 574.2L623 577.4L620.7 580.6L618.6 583.7L616.7 586.7L615.1 589.7L613.9 592.9L612.8 595.9L612 598.7L611.3 601.1L610.8 602.8L683 602L700 600L861 463.3Z" fill="#e3e1f2"/>
<path d="M877.9 430.6L873.7 432.4L867.8 434.9L860.8 437.8L853.3 441.1L845.8 444.3L838.8 447.4L832.3 450.4L825.8 453.4L819.3 456.5L812.8 459.6L806.3 462.7L799.8 465.6L793.2 468.5L786.7 471.3L780.1 474L773.5 476.7L766.9 479.6L760.3 482.6L753.6 485.8L746.9 489.2L740.1 492.6L733.4 496.1L727 499.6L720.7 503.1L714.8 506.5L709.2 509.9L703.7 513.3L698.4 516.7L693.1 520.2L687.8 523.8L682.4 527.4L677 531.2L671.6 535.1L666.4 538.9L661.5 542.8L656.8 546.5L652.5 550.2L648.4 553.8L644.6 557.4L641 561L637.6 564.4L634.5 567.8L631.5 571.2L628.7 574.4L626.2 577.6L623.9 580.7L621.9 583.8L620.1 586.7L618.6 589.7L617.4 592.8L616.4 595.9L615.6 598.7L615 601L614.5 602.7L683 602L700 600L861 463.3Z" fill="#e0def1"/>
<path d="M876.9 432.5L872.7 434.3L866.9 436.8L860 439.7L852.6 442.9L845.2 446.1L838.3 449.2L831.9 452.1L825.4 455.1L819 458.1L812.6 461.2L806.2 464.2L799.8 467.1L793.4 469.9L786.9 472.6L780.4 475.3L773.9 477.9L767.5 480.7L761 483.7L754.4 486.9L747.8 490.1L741.2 493.5L734.6 497L728.2 500.5L722.1 503.9L716.3 507.3L710.7 510.7L705.3 514L700 517.5L694.8 521L689.5 524.5L684.3 528.2L679 532L673.7 535.8L668.6 539.6L663.8 543.4L659.2 547.1L655 550.7L651 554.3L647.3 557.9L643.8 561.4L640.5 564.8L637.4 568.2L634.5 571.5L631.8 574.6L629.4 577.8L627.1 580.8L625.2 583.8L623.4 586.7L622 589.7L620.9 592.8L620 595.8L619.3 598.6L618.7 600.9L618.3 602.6L683 602L700 600L861 463.3Z" fill="#dddaf0"/>
<path d="M875.9 434.4L871.8 436.2L866 438.7L859.2 441.6L851.9 444.7L844.5 447.9L837.7 450.9L831.4 453.8L825.1 456.8L818.8 459.7L812.4 462.7L806.1 465.7L799.8 468.5L793.5 471.3L787.1 473.9L780.7 476.5L774.4 479.2L768 481.9L761.7 484.8L755.2 487.9L748.7 491.1L742.2 494.5L735.8 497.9L729.5 501.3L723.5 504.7L717.8 508.1L712.2 511.4L706.9 514.8L701.6 518.3L696.5 521.7L691.3 525.3L686.1 528.9L680.9 532.7L675.8 536.5L670.8 540.3L666.1 544.1L661.6 547.7L657.5 551.3L653.6 554.9L650 558.4L646.6 561.9L643.4 565.2L640.4 568.5L637.6 571.7L634.9 574.9L632.6 577.9L630.4 580.9L628.5 583.8L626.8 586.7L625.4 589.7L624.4 592.7L623.6 595.8L622.9 598.5L622.5 600.9L622 602.6L683 602L700 600L861 463.3Z" fill="#dad7ee"/>
<path d="M874.9 436.3L870.8 438.1L865.1 440.5L858.4 443.4L851.1 446.6L843.9 449.7L837.2 452.7L830.9 455.5L824.7 458.4L818.5 461.4L812.2 464.3L806 467.2L799.8 470L793.6 472.7L787.3 475.2L781.1 477.8L774.8 480.4L768.6 483L762.4 485.9L756 488.9L749.6 492.1L743.3 495.4L736.9 498.8L730.8 502.2L724.9 505.5L719.2 508.9L713.8 512.2L708.5 515.6L703.3 519L698.2 522.5L693.1 526L688 529.7L682.9 533.4L677.9 537.2L673 541L668.4 544.7L664 548.3L660 551.9L656.2 555.4L652.7 558.9L649.4 562.3L646.2 565.6L643.3 568.9L640.6 572L638.1 575.1L635.7 578.1L633.6 581L631.8 583.9L630.2 586.7L628.9 589.6L627.9 592.7L627.1 595.7L626.6 598.5L626.2 600.8L625.8 602.5L683 602L700 600L861 463.3Z" fill="#d7d4ed"/>
<path d="M874 438.3L869.9 440L864.3 442.4L857.6 445.3L850.4 448.4L843.2 451.5L836.6 454.4L830.5 457.2L824.3 460.1L818.2 463L812.1 465.8L805.9 468.7L799.8 471.4L793.7 474.1L787.5 476.6L781.4 479.1L775.3 481.6L769.2 484.2L763 487L756.8 490L750.6 493.1L744.3 496.4L738.1 499.7L732.1 503L726.2 506.4L720.7 509.7L715.3 513L710 516.4L704.9 519.8L699.9 523.3L694.9 526.8L689.9 530.4L684.9 534.1L680 537.9L675.2 541.6L670.7 545.4L666.5 549L662.5 552.5L658.8 556L655.4 559.4L652.1 562.7L649.1 566L646.3 569.2L643.6 572.3L641.2 575.3L638.9 578.2L636.9 581.1L635.1 583.9L633.5 586.7L632.3 589.6L631.4 592.7L630.7 595.6L630.2 598.4L629.9 600.7L629.5 602.4L683 602L700 600L861 463.3Z" fill="#d4d0eb"/>
<path d="M873 440.2L868.9 441.9L863.4 444.3L856.8 447.1L849.7 450.2L842.6 453.3L836.1 456.2L830 458.9L823.9 461.7L817.9 464.6L811.9 467.4L805.8 470.2L799.8 472.9L793.8 475.4L787.8 477.9L781.8 480.3L775.8 482.8L769.7 485.4L763.7 488.1L757.7 491L751.5 494.1L745.4 497.3L739.3 500.6L733.3 503.9L727.6 507.2L722.1 510.5L716.8 513.8L711.6 517.2L706.6 520.6L701.6 524L696.7 527.5L691.8 531.1L686.9 534.8L682.1 538.6L677.4 542.3L673 546L668.9 549.6L665 553.1L661.4 556.5L658.1 559.9L654.9 563.2L652 566.4L649.2 569.6L646.7 572.6L644.3 575.5L642.1 578.4L640.1 581.2L638.4 584L636.9 586.7L635.7 589.6L634.9 592.6L634.3 595.6L633.9 598.3L633.6 600.7L633.3 602.3L683 602L700 600L861 463.3Z" fill="#d1cdea"/>
<path d="M872 442.1L868 443.8L862.5 446.2L856 449L849 452L842 455.1L835.5 457.9L829.5 460.6L823.6 463.4L817.6 466.2L811.7 468.9L805.7 471.7L799.8 474.3L793.9 476.8L788 479.2L782.1 481.6L776.2 484L770.3 486.5L764.4 489.2L758.5 492.1L752.4 495.1L746.4 498.3L740.4 501.5L734.6 504.7L729 508L723.6 511.3L718.3 514.6L713.2 518L708.2 521.4L703.3 524.8L698.5 528.3L693.6 531.9L688.8 535.6L684.1 539.3L679.6 543L675.3 546.7L671.3 550.2L667.5 553.6L664 557L660.8 560.4L657.7 563.6L654.9 566.8L652.2 569.9L649.7 572.9L647.4 575.8L645.2 578.6L643.3 581.3L641.7 584L640.3 586.7L639.2 589.5L638.4 592.6L637.9 595.5L637.5 598.3L637.3 600.6L637 602.3L683 602L700 600L861 463.3Z" fill="#cecae8"/>
<path d="M871 444L867 445.7L861.6 448.1L855.2 450.9L848.2 453.9L841.3 456.9L835 459.7L829.1 462.4L823.2 465.1L817.3 467.8L811.5 470.5L805.6 473.2L799.8 475.8L794 478.2L788.2 480.6L782.4 482.9L776.7 485.2L770.9 487.7L765.1 490.3L759.3 493.1L753.4 496.1L747.4 499.2L741.6 502.4L735.9 505.6L730.4 508.8L725 512.1L719.8 515.4L714.8 518.7L709.9 522.1L705 525.6L700.2 529L695.5 532.6L690.8 536.3L686.2 540L681.8 543.7L677.6 547.3L673.7 550.8L670 554.2L666.6 557.6L663.5 560.9L660.5 564.1L657.7 567.2L655.1 570.3L652.7 573.2L650.5 576L648.4 578.7L646.6 581.4L645 584L643.6 586.7L642.6 589.5L641.9 592.5L641.5 595.5L641.2 598.2L641 600.5L640.8 602.2L683 602L700 600L861 463.3Z" fill="#cbc6e7"/>
<path d="M870 446L866.1 447.6L860.7 450L854.4 452.7L847.5 455.7L840.7 458.7L834.4 461.4L828.6 464.1L822.8 466.7L817 469.4L811.3 472L805.5 474.7L799.8 477.2L794.1 479.6L788.4 481.9L782.8 484.1L777.1 486.4L771.5 488.8L765.8 491.4L760.1 494.2L754.3 497.1L748.5 500.2L742.8 503.3L737.2 506.5L731.7 509.7L726.5 512.9L721.4 516.2L716.4 519.5L711.5 522.9L706.7 526.3L702 529.8L697.4 533.3L692.8 537L688.3 540.7L684 544.3L679.9 548L676.1 551.4L672.5 554.8L669.2 558.1L666.2 561.4L663.3 564.5L660.6 567.6L658.1 570.6L655.8 573.5L653.6 576.2L651.6 578.9L649.8 581.5L648.3 584.1L647 586.7L646.1 589.5L645.4 592.5L645.1 595.4L644.8 598.2L644.7 600.5L644.5 602.1L683 602L700 600L861 463.3Z" fill="#c8c3e6"/>
<path d="M869 447.9L865.1 449.6L859.8 451.9L853.6 454.6L846.8 457.5L840.1 460.4L833.9 463.2L828.1 465.8L822.4 468.4L816.7 471L811.1 473.6L805.4 476.2L799.8 478.6L794.2 481L788.6 483.2L783.1 485.4L777.6 487.6L772 490L766.5 492.5L760.9 495.2L755.2 498.1L749.5 501.1L743.9 504.2L738.4 507.3L733.1 510.5L727.9 513.7L722.9 517L718 520.3L713.1 523.7L708.4 527.1L703.8 530.6L699.3 534.1L694.8 537.7L690.4 541.4L686.2 545L682.2 548.6L678.5 552.1L675 555.4L671.8 558.7L668.8 561.9L666.1 565L663.5 568L661.1 570.9L658.8 573.8L656.7 576.4L654.8 579L653 581.6L651.6 584.1L650.4 586.7L649.5 589.5L648.9 592.4L648.6 595.4L648.5 598.1L648.4 600.4L648.2 602.1L683 602L700 600L861 463.3Z" fill="#c5c0e4"/>
<path d="M868 449.8L864.2 451.5L859 453.7L852.8 456.4L846.1 459.3L839.4 462.2L833.3 464.9L827.7 467.5L822 470L816.4 472.6L810.9 475.2L805.3 477.7L799.8 480.1L794.3 482.4L788.9 484.6L783.4 486.7L778 488.8L772.6 491.1L767.2 493.6L761.7 496.3L756.1 499.1L750.6 502.1L745.1 505.1L739.7 508.2L734.5 511.3L729.4 514.5L724.4 517.8L719.5 521.1L714.8 524.5L710.1 527.9L705.6 531.3L701.2 534.8L696.8 538.4L692.5 542.1L688.4 545.7L684.5 549.3L680.9 552.7L677.5 556L674.4 559.2L671.5 562.4L668.9 565.4L666.3 568.4L664 571.3L661.8 574L659.8 576.7L657.9 579.2L656.3 581.7L654.9 584.2L653.7 586.7L652.9 589.4L652.5 592.4L652.2 595.3L652.1 598L652.1 600.3L652 602L683 602L700 600L861 463.3Z" fill="#c2bce3"/>
<path d="M867 451.7L863.2 453.4L858.1 455.6L851.9 458.3L845.4 461.2L838.8 464L832.8 466.7L827.2 469.2L821.7 471.7L816.2 474.2L810.7 476.7L805.2 479.2L799.8 481.5L794.4 483.8L789.1 485.9L783.8 488L778.5 490.1L773.2 492.3L767.9 494.7L762.5 497.3L757.1 500.1L751.6 503L746.3 506L741 509L735.9 512.1L730.9 515.3L725.9 518.6L721.1 521.9L716.4 525.2L711.8 528.6L707.4 532.1L703 535.6L698.7 539.2L694.6 542.8L690.6 546.4L686.8 549.9L683.3 553.3L680 556.6L677 559.7L674.2 562.8L671.6 565.9L669.2 568.8L667 571.6L664.9 574.3L662.9 576.9L661.1 579.4L659.5 581.8L658.2 584.2L657.1 586.7L656.4 589.4L656 592.3L655.8 595.3L655.8 598L655.8 600.3L655.7 601.9L683 602L700 600L861 463.3Z" fill="#beb9e1"/>
<path d="M866 453.7L862.3 455.3L857.2 457.5L851.1 460.1L844.6 463L838.2 465.8L832.2 468.4L826.7 470.9L821.3 473.4L815.9 475.8L810.5 478.3L805.1 480.7L799.8 483L794.5 485.2L789.3 487.2L784.1 489.2L778.9 491.3L773.8 493.4L768.6 495.8L763.3 498.4L758 501.1L752.7 503.9L747.4 506.9L742.3 509.9L737.2 513L732.3 516.1L727.5 519.3L722.7 522.7L718.1 526L713.5 529.4L709.2 532.8L704.9 536.3L700.7 539.9L696.7 543.5L692.8 547.1L689.1 550.6L685.7 553.9L682.5 557.1L679.6 560.3L676.9 563.3L674.4 566.3L672.1 569.2L669.9 572L667.9 574.6L666 577.1L664.3 579.5L662.8 581.9L661.5 584.3L660.5 586.7L659.8 589.4L659.5 592.3L659.4 595.2L659.4 597.9L659.5 600.2L659.5 601.9L683 602L700 600L861 463.3Z" fill="#bbb6e0"/>
<path d="M865 455.6L861.3 457.2L856.3 459.4L850.3 462L843.9 464.8L837.5 467.6L831.7 470.2L826.3 472.6L820.9 475L815.6 477.4L810.3 479.8L805 482.2L799.8 484.4L794.6 486.6L789.5 488.5L784.4 490.5L779.4 492.5L774.3 494.6L769.2 496.9L764.1 499.4L758.9 502.1L753.7 504.9L748.6 507.8L743.5 510.8L738.6 513.8L733.8 516.9L729 520.1L724.3 523.4L719.7 526.8L715.3 530.2L711 533.6L706.8 537L702.7 540.6L698.7 544.2L695 547.7L691.4 551.2L688.1 554.5L685 557.7L682.2 560.8L679.6 563.8L677.2 566.8L675 569.6L672.9 572.3L670.9 574.9L669.1 577.3L667.4 579.7L666 582L664.8 584.3L663.8 586.7L663.2 589.3L663 592.2L663 595.1L663.1 597.8L663.2 600.1L663.2 601.8L683 602L700 600L861 463.3Z" fill="#b8b2df"/>
<path d="M864 457.5L860.4 459.1L855.4 461.3L849.5 463.9L843.2 466.6L836.9 469.4L831.1 471.9L825.8 474.3L820.5 476.7L815.3 479L810.1 481.4L804.9 483.7L799.8 485.9L794.7 487.9L789.7 489.9L784.8 491.8L779.8 493.7L774.9 495.7L769.9 498L764.9 500.5L759.9 503.1L754.8 505.8L749.8 508.7L744.8 511.6L740 514.6L735.2 517.7L730.5 520.9L725.9 524.2L721.4 527.6L717 530.9L712.7 534.3L708.7 537.8L704.7 541.3L700.8 544.9L697.2 548.4L693.7 551.9L690.5 555.1L687.5 558.3L684.8 561.4L682.3 564.3L680 567.2L677.8 570L675.8 572.7L673.9 575.2L672.2 577.6L670.6 579.8L669.2 582.1L668.1 584.3L667.2 586.7L666.7 589.3L666.5 592.2L666.5 595.1L666.7 597.8L666.9 600.1L667 601.7L683 602L700 600L861 463.3Z" fill="#b5afdd"/>
<path d="M863 459.4L859.4 461L854.5 463.2L848.7 465.7L842.5 468.5L836.3 471.2L830.6 473.7L825.4 476L820.2 478.3L815 480.7L809.9 482.9L804.8 485.2L799.8 487.3L794.8 489.3L790 491.2L785.1 493L780.3 494.9L775.5 496.9L770.6 499.1L765.7 501.5L760.8 504.1L755.8 506.8L750.9 509.6L746.1 512.5L741.4 515.4L736.7 518.5L732 521.7L727.5 525L723 528.3L718.7 531.7L714.5 535.1L710.5 538.5L706.7 542L702.9 545.6L699.4 549.1L696 552.5L692.9 555.8L690 558.9L687.4 561.9L685 564.8L682.8 567.7L680.7 570.4L678.8 573L677 575.5L675.3 577.8L673.8 580L672.5 582.2L671.4 584.4L670.6 586.7L670.1 589.3L670 592.1L670.1 595L670.4 597.7L670.6 600L670.7 601.6L683 602L700 600L861 463.3Z" fill="#b2acdc"/>
<path d="M862 461.4L858.5 462.9L853.7 465.1L847.9 467.6L841.8 470.3L835.6 473L830 475.4L824.9 477.7L819.8 480L814.7 482.3L809.7 484.5L804.7 486.7L799.8 488.8L795 490.7L790.2 492.5L785.5 494.3L780.7 496.1L776 498L771.3 500.2L766.5 502.6L761.7 505.1L756.9 507.7L752.1 510.5L747.4 513.3L742.7 516.3L738.1 519.3L733.6 522.5L729 525.8L724.6 529.1L720.4 532.5L716.3 535.8L712.4 539.3L708.6 542.8L705 546.3L701.5 549.8L698.3 553.2L695.3 556.4L692.5 559.5L690 562.4L687.7 565.3L685.6 568.1L683.6 570.8L681.7 573.4L680 575.8L678.4 578L677 580.2L675.7 582.3L674.7 584.4L673.9 586.7L673.5 589.3L673.5 592.1L673.7 595L674 597.7L674.3 599.9L674.5 601.6L683 602L700 600L861 463.3Z" fill="#afa8da"/>
<path d="M861 463.3L857.6 464.8L852.8 466.9L847.1 469.4L841 472.1L835 474.8L829.5 477.2L824.4 479.4L819.4 481.7L814.4 483.9L809.5 486L804.6 488.2L799.8 490.2L795.1 492.1L790.4 493.9L785.8 495.6L781.2 497.3L776.6 499.2L772 501.3L767.3 503.6L762.6 506.1L757.9 508.7L753.3 511.4L748.6 514.2L744.1 517.1L739.6 520.1L735.1 523.3L730.6 526.6L726.3 529.9L722.1 533.3L718.1 536.6L714.3 540L710.6 543.5L707.1 547L703.7 550.4L700.6 553.8L697.7 557L695 560L692.6 563L690.4 565.8L688.3 568.5L686.5 571.2L684.7 573.7L683 576.1L681.5 578.2L680.1 580.3L678.9 582.4L678 584.5L677.3 586.7L677 589.2L677 592L677.3 594.9L677.7 597.6L678 599.9L678.2 601.5L683 602L700 600L861 463.3Z" fill="#aca5d9"/>
<linearGradient id="sfade" gradientUnits="userSpaceOnUse" x1="566.5" y1="870" x2="608.5" y2="860.8"><stop offset="0" stop-color="#fff"/><stop offset="1" stop-color="#aca5d9"/></linearGradient>
<path d="M597.5 795L537.5 754L537.5 990L586 985L629 934L640 860Z" fill="url(#sfade)"/>
<path d="M861 463.3C861 466.1 860.4 473.4 860.9 480.1C861.3 486.8 861.8 495.7 863.5 503.5C865.2 511.3 867.7 519.8 871 527.1C874.3 534.4 878.2 541.1 883.4 547.6C888.7 554 895.1 560.3 902.5 565.9C909.9 571.4 918.3 576.3 927.7 580.8C937 585.3 948.2 589.2 958.5 592.9C968.9 596.6 979.3 599.5 989.7 602.9C1000.1 606.4 1012.6 610.5 1020.9 613.6C1029.1 616.6 1029.5 616.8 1039.1 621.2C1048.7 625.6 1065.5 633.8 1078.5 639.9C1091.6 646.1 1104.5 652.2 1117.4 658.2C1130.3 664.2 1142.9 670 1155.8 676C1168.8 682.1 1181.9 688.3 1195 694.5C1208.1 700.7 1221.4 707.2 1234.5 713.1C1247.6 719.1 1260.7 725 1273.7 730.2C1286.7 735.4 1299.5 740.1 1312.5 744.6C1325.5 749 1340.5 753.5 1351.7 756.9C1362.9 760.3 1364.9 760.8 1379.7 765.1C1394.5 769.4 1420.3 776.9 1440.7 782.8C1461 788.6 1481.4 794.6 1501.7 800.2C1522 805.8 1542.2 811.4 1562.5 816.5C1582.7 821.6 1602.9 826.4 1623.2 831C1643.4 835.5 1664.6 839.8 1684 843.8C1703.5 847.8 1723.9 851.7 1739.9 854.8C1755.9 858 1761.6 859 1780 862.7C1798.3 866.4 1825.6 871.9 1850 876.9C1874.4 881.9 1913.5 890 1926.2 892.6L1917 980.5C1905.8 978.5 1872.9 972.4 1850 968.3C1827.2 964.1 1800.9 959.3 1780 955.5C1759.1 951.8 1744 949 1724.6 945.7C1705.2 942.4 1680.6 938.2 1663.7 935.8C1646.8 933.3 1636.7 932 1623.2 931C1609.6 930 1596.1 929.2 1582.5 929.6C1569 929.9 1552.7 931.2 1541.9 932.9C1531.2 934.6 1523.8 937.2 1518 939.7C1512.3 942.2 1509.4 945.3 1507.3 947.7C1505.3 950.2 1505.1 951.7 1505.5 954.2C1505.8 956.7 1506.1 958.8 1509.4 962.7C1512.8 966.5 1518.4 972.1 1525.5 977.2C1532.6 982.4 1542.4 988.5 1551.9 993.5C1561.4 998.6 1570.5 1002.9 1582.4 1007.7C1594.3 1012.4 1606.3 1016.8 1623.3 1022.1C1640.2 1027.4 1664.6 1034.2 1684 1039.4C1703.4 1044.7 1723.8 1049.6 1739.8 1053.7C1755.8 1057.8 1763.2 1059.5 1779.9 1063.8C1796.6 1068 1819.5 1073.9 1840.1 1079.3C1860.6 1084.7 1892.5 1093.1 1903 1095.9L1890.8 1162.8C1879.8 1160.1 1849.9 1153.2 1824.8 1146.6C1799.8 1140.1 1767.3 1131.5 1740.5 1123.6C1713.6 1115.8 1683.4 1106.1 1663.9 1099.7C1644.3 1093.2 1636.5 1090.1 1622.9 1084.9C1609.4 1079.8 1595.8 1074.2 1582.3 1068.7C1568.8 1063.2 1555.5 1057.7 1542.1 1051.8C1528.6 1046 1515.1 1040.1 1501.5 1033.8C1488 1027.4 1474.3 1020.8 1460.8 1013.6C1447.3 1006.5 1434 999 1420.6 990.8C1407.2 982.6 1393.1 973.3 1380.3 964.4C1367.4 955.5 1358.1 948.4 1343.7 937.4C1329.3 926.5 1305.7 907.7 1293.9 898.8C1282.1 889.8 1279.6 888 1273 883.6C1266.4 879.3 1260.5 875.8 1254.1 872.8C1247.7 869.8 1241 867.2 1234.4 865.7C1227.9 864.2 1221.1 863.4 1214.6 863.8C1208.1 864.2 1201.9 865.5 1195.5 868.1C1189.2 870.7 1181.6 875.6 1176.5 879.6C1171.4 883.6 1167.6 888.4 1164.9 892.1C1162.2 895.8 1161.6 897.1 1160.2 901.9C1158.8 906.7 1157.2 914.3 1156.5 921.1C1155.8 928 1155.6 935.7 1156.1 943.1C1156.6 950.4 1157.9 958.4 1159.4 965.3C1161 972.2 1161.9 975.8 1165.6 984.4C1169.4 992.9 1175.7 1006.3 1181.7 1016.8C1187.7 1027.3 1193.3 1036.2 1201.7 1047.4C1210.1 1058.6 1221.9 1072.9 1232.1 1084C1242.3 1095 1251.1 1103.5 1263 1113.9C1274.8 1124.3 1289.8 1136.3 1303.3 1146.5C1316.7 1156.7 1330.2 1165.9 1343.6 1175.2C1357.1 1184.4 1374.5 1195.7 1384 1201.8C1393.4 1208 1386.6 1203.7 1400.3 1212.1C1414 1220.4 1444.1 1238.6 1466.2 1251.8C1488.3 1264.9 1510.7 1278.2 1532.9 1291.1C1555 1304.1 1576.6 1316.6 1599.1 1329.6C1621.7 1342.6 1656.6 1362.7 1668.1 1369.3L1622.5 1428.8C1615.8 1425.8 1597.3 1417.6 1582.3 1410.7C1567.3 1403.7 1551.7 1396.8 1532.5 1387.3C1513.3 1377.9 1489.1 1365.9 1467.1 1353.9C1445 1341.9 1421 1328 1400.4 1315.5C1379.8 1303 1359.6 1289.6 1343.4 1278.8C1327.1 1268 1316.2 1260.3 1302.7 1250.7C1289.3 1241.2 1276.3 1231.7 1262.8 1221.5C1249.4 1211.2 1235.7 1200.7 1222.1 1189.3C1208.5 1177.9 1194.2 1165.4 1181.4 1152.9C1168.6 1140.3 1156.3 1127.3 1145.2 1114.1C1134.2 1100.8 1124.2 1087.3 1115.2 1073.4C1106.1 1059.6 1097.9 1044.7 1090.9 1030.9C1083.8 1017.2 1076.9 1000.8 1072.9 991C1068.9 981.2 1068.9 980.3 1067 972.4C1065.1 964.4 1062.6 951.7 1061.5 943.1C1060.4 934.6 1060.2 928.4 1060.5 921.1C1060.7 913.8 1061.7 906.7 1063 899.4C1064.3 892 1066.2 885.3 1068.3 877.2C1070.4 869.1 1073.8 858.6 1075.8 850.7C1077.8 842.9 1079.5 836.1 1080.3 830.2C1081.2 824.4 1081.4 820.3 1081 815.6C1080.7 811 1079.7 806.6 1078.1 802.4C1076.6 798.3 1074.4 794.3 1071.6 790.7C1068.7 787 1065.3 783.6 1061.2 780.5C1057.1 777.3 1051.7 774.2 1046.8 771.9C1041.9 769.6 1036.8 767.9 1031.9 766.7C1027 765.6 1022 765.1 1017.2 765.1C1012.3 765.2 1007.6 765.8 1002.7 767C997.8 768.2 995.3 769 987.8 772.1C980.4 775.2 967.9 781.1 958.1 785.4C948.4 789.7 938.7 794 929.2 797.8C919.7 801.6 910 805.1 901.1 808.1C892.1 811.1 884 813.5 875.5 815.9C867 818.3 858.4 820.5 850 822.6C841.5 824.7 833.3 826.6 824.8 828.6C816.3 830.6 807.5 832.6 799 834.5C790.5 836.5 782.4 838.4 773.9 840.5C765.5 842.7 756.8 844.8 748.3 847.2C739.7 849.7 731.1 852.1 722.6 855.3C714.2 858.6 706 861.8 697.7 866.6C689.3 871.4 681 876.8 672.7 883.9C664.5 891 655.3 900.7 648 909.1C640.7 917.4 632.2 929.8 629 934L597.5 795C601.6 796.2 613.7 800.3 621.9 802.1C630.2 803.9 638.7 805.5 647 805.9C655.4 806.3 659.3 806.5 672 804.4C684.6 802.2 705.8 797.5 722.9 793C739.9 788.6 757.3 783 774.3 777.7C791.3 772.4 808 766.7 824.9 761.1C841.8 755.5 862.2 748.9 875.8 744.2C889.4 739.5 898.7 736.2 906.5 732.8C914.2 729.4 919.1 726.3 922.3 723.9C925.6 721.4 925.6 720.1 925.8 717.9C926.1 715.7 926.3 714.2 924 710.7C921.7 707.1 916.8 701.3 912.1 696.7C907.5 692.1 903.9 689 896 683.2C888.2 677.3 875.5 668.3 865.1 661.8C854.8 655.2 844.3 649.2 833.9 643.9C823.4 638.6 813 634 802.6 629.9C792.1 625.7 781.6 622.2 771.2 619.1C760.8 616 749.5 613.2 740.2 611.1C730.9 609 724.9 608 715.3 606.4C705.8 604.9 688.4 602.7 683 602Z" fill="#aca5d9"/>
<path d="M861 463.3C861 466.1 860.4 473.4 860.9 480.1C861.3 486.8 861.8 495.7 863.5 503.5C865.2 511.3 867.7 519.8 871 527.1C874.3 534.4 878.2 541.1 883.4 547.6C888.7 554 895.1 560.3 902.5 565.9C909.9 571.4 918.3 576.3 927.7 580.8C937 585.3 948.2 589.2 958.5 592.9C968.9 596.6 979.3 599.5 989.7 602.9C1000.1 606.4 1012.6 610.5 1020.9 613.6C1029.1 616.6 1029.5 616.8 1039.1 621.2C1048.7 625.6 1065.5 633.8 1078.5 639.9C1091.6 646.1 1104.5 652.2 1117.4 658.2C1130.3 664.2 1142.9 670 1155.8 676C1168.8 682.1 1181.9 688.3 1195 694.5C1208.1 700.7 1221.4 707.2 1234.5 713.1C1247.6 719.1 1260.7 725 1273.7 730.2C1286.7 735.4 1299.5 740.1 1312.5 744.6C1325.5 749 1340.5 753.5 1351.7 756.9C1362.9 760.3 1364.9 760.8 1379.7 765.1C1394.5 769.4 1420.3 776.9 1440.7 782.8C1461 788.6 1481.4 794.6 1501.7 800.2C1522 805.8 1542.2 811.4 1562.5 816.5C1582.7 821.6 1602.9 826.4 1623.2 831C1643.4 835.5 1664.6 839.8 1684 843.8C1703.5 847.8 1723.9 851.7 1739.9 854.8C1755.9 858 1761.6 859 1780 862.7C1798.3 866.4 1825.6 871.9 1850 876.9C1874.4 881.9 1913.5 890 1926.2 892.6L1917 980.5C1905.8 978.5 1872.9 972.4 1850 968.3C1827.2 964.1 1800.9 959.3 1780 955.5C1759.1 951.8 1744 949 1724.6 945.7C1705.2 942.4 1680.6 938.2 1663.7 935.8C1646.8 933.3 1636.7 932 1623.2 931C1609.6 930 1596.1 929.2 1582.5 929.6C1569 929.9 1552.7 931.2 1541.9 932.9C1531.2 934.6 1523.8 937.2 1518 939.7C1512.3 942.2 1509.4 945.3 1507.3 947.7C1505.3 950.2 1505.1 951.7 1505.5 954.2C1505.8 956.7 1506.1 958.8 1509.4 962.7C1512.8 966.5 1518.4 972.1 1525.5 977.2C1532.6 982.4 1542.4 988.5 1551.9 993.5C1561.4 998.6 1570.5 1002.9 1582.4 1007.7C1594.3 1012.4 1606.3 1016.8 1623.3 1022.1C1640.2 1027.4 1664.6 1034.2 1684 1039.4C1703.4 1044.7 1723.8 1049.6 1739.8 1053.7C1755.8 1057.8 1763.2 1059.5 1779.9 1063.8C1796.6 1068 1819.5 1073.9 1840.1 1079.3C1860.6 1084.7 1892.5 1093.1 1903 1095.9L1890.8 1162.8C1879.8 1160.1 1849.9 1153.2 1824.8 1146.6C1799.8 1140.1 1767.3 1131.5 1740.5 1123.6C1713.6 1115.8 1683.4 1106.1 1663.9 1099.7C1644.3 1093.2 1636.5 1090.1 1622.9 1084.9C1609.4 1079.8 1595.8 1074.2 1582.3 1068.7C1568.8 1063.2 1555.5 1057.7 1542.1 1051.8C1528.6 1046 1515.1 1040.1 1501.5 1033.8C1488 1027.4 1474.3 1020.8 1460.8 1013.6C1447.3 1006.5 1434 999 1420.6 990.8C1407.2 982.6 1393.1 973.3 1380.3 964.4C1367.4 955.5 1358.1 948.4 1343.7 937.4C1329.3 926.5 1305.7 907.7 1293.9 898.8C1282.1 889.8 1279.6 888 1273 883.6C1266.4 879.3 1260.5 875.8 1254.1 872.8C1247.7 869.8 1241 867.2 1234.4 865.7C1227.9 864.2 1221.1 863.4 1214.6 863.8C1208.1 864.2 1201.9 865.5 1195.5 868.1C1189.2 870.7 1181.6 875.6 1176.5 879.6C1171.4 883.6 1167.6 888.4 1164.9 892.1C1162.2 895.8 1161.6 897.1 1160.2 901.9C1158.8 906.7 1157.2 914.3 1156.5 921.1C1155.8 928 1155.6 935.7 1156.1 943.1C1156.6 950.4 1157.9 958.4 1159.4 965.3C1161 972.2 1161.9 975.8 1165.6 984.4C1169.4 992.9 1175.7 1006.3 1181.7 1016.8C1187.7 1027.3 1193.3 1036.2 1201.7 1047.4C1210.1 1058.6 1221.9 1072.9 1232.1 1084C1242.3 1095 1251.1 1103.5 1263 1113.9C1274.8 1124.3 1289.8 1136.3 1303.3 1146.5C1316.7 1156.7 1330.2 1165.9 1343.6 1175.2C1357.1 1184.4 1374.5 1195.7 1384 1201.8C1393.4 1208 1386.6 1203.7 1400.3 1212.1C1414 1220.4 1444.1 1238.6 1466.2 1251.8C1488.3 1264.9 1510.7 1278.2 1532.9 1291.1C1555 1304.1 1576.6 1316.6 1599.1 1329.6C1621.7 1342.6 1656.6 1362.7 1668.1 1369.3L1622.5 1428.8C1615.8 1425.8 1597.3 1417.6 1582.3 1410.7C1567.3 1403.7 1551.7 1396.8 1532.5 1387.3C1513.3 1377.9 1489.1 1365.9 1467.1 1353.9C1445 1341.9 1421 1328 1400.4 1315.5C1379.8 1303 1359.6 1289.6 1343.4 1278.8C1327.1 1268 1316.2 1260.3 1302.7 1250.7C1289.3 1241.2 1276.3 1231.7 1262.8 1221.5C1249.4 1211.2 1235.7 1200.7 1222.1 1189.3C1208.5 1177.9 1194.2 1165.4 1181.4 1152.9C1168.6 1140.3 1156.3 1127.3 1145.2 1114.1C1134.2 1100.8 1124.2 1087.3 1115.2 1073.4C1106.1 1059.6 1097.9 1044.7 1090.9 1030.9C1083.8 1017.2 1076.9 1000.8 1072.9 991C1068.9 981.2 1068.9 980.3 1067 972.4C1065.1 964.4 1062.6 951.7 1061.5 943.1C1060.4 934.6 1060.2 928.4 1060.5 921.1C1060.7 913.8 1061.7 906.7 1063 899.4C1064.3 892 1066.2 885.3 1068.3 877.2C1070.4 869.1 1073.8 858.6 1075.8 850.7C1077.8 842.9 1079.5 836.1 1080.3 830.2C1081.2 824.4 1081.4 820.3 1081 815.6C1080.7 811 1079.7 806.6 1078.1 802.4C1076.6 798.3 1074.4 794.3 1071.6 790.7C1068.7 787 1065.3 783.6 1061.2 780.5C1057.1 777.3 1051.7 774.2 1046.8 771.9C1041.9 769.6 1036.8 767.9 1031.9 766.7C1027 765.6 1022 765.1 1017.2 765.1C1012.3 765.2 1007.6 765.8 1002.7 767C997.8 768.2 995.3 769 987.8 772.1C980.4 775.2 967.9 781.1 958.1 785.4C948.4 789.7 938.7 794 929.2 797.8C919.7 801.6 910 805.1 901.1 808.1C892.1 811.1 884 813.5 875.5 815.9C867 818.3 858.4 820.5 850 822.6C841.5 824.7 833.3 826.6 824.8 828.6C816.3 830.6 807.5 832.6 799 834.5C790.5 836.5 782.4 838.4 773.9 840.5C765.5 842.7 756.8 844.8 748.3 847.2C739.7 849.7 731.1 852.1 722.6 855.3C714.2 858.6 706 861.8 697.7 866.6C689.3 871.4 681 876.8 672.7 883.9C664.5 891 655.3 900.7 648 909.1C640.7 917.4 632.2 929.8 629 934" fill="none" stroke="#000" stroke-width="2.6" stroke-linejoin="miter"/>
<path d="M597.5 795C601.6 796.2 613.7 800.3 621.9 802.1C630.2 803.9 638.7 805.5 647 805.9C655.4 806.3 659.3 806.5 672 804.4C684.6 802.2 705.8 797.5 722.9 793C739.9 788.6 757.3 783 774.3 777.7C791.3 772.4 808 766.7 824.9 761.1C841.8 755.5 862.2 748.9 875.8 744.2C889.4 739.5 898.7 736.2 906.5 732.8C914.2 729.4 919.1 726.3 922.3 723.9C925.6 721.4 925.6 720.1 925.8 717.9C926.1 715.7 926.3 714.2 924 710.7C921.7 707.1 916.8 701.3 912.1 696.7C907.5 692.1 903.9 689 896 683.2C888.2 677.3 875.5 668.3 865.1 661.8C854.8 655.2 844.3 649.2 833.9 643.9C823.4 638.6 813 634 802.6 629.9C792.1 625.7 781.6 622.2 771.2 619.1C760.8 616 749.5 613.2 740.2 611.1C730.9 609 724.9 608 715.3 606.4C705.8 604.9 688.4 602.7 683 602" fill="none" stroke="#000" stroke-width="2.6"/>
<clipPath id="arcclip"><rect x="200" y="287.2" width="260" height="260"/></clipPath>
<g clip-path="url(#arcclip)" fill="none" stroke="#ff0000" stroke-width="7"><path d="M372.2 275.3C373 277.3 374.2 280.3 377 287.2C379.8 294.1 385.8 308.1 388.9 316.9C392 325.8 394.2 332.8 395.8 340.4C397.3 347.9 398.1 354.4 398 362.3C397.9 370.1 397.1 378.6 395.2 387.3C393.2 395.9 390.2 405.2 386.1 414.1C381.9 423 376.8 432 370.3 440.6C363.7 449.2 355.9 457.8 346.7 465.5C337.5 473.2 325.6 481.1 315.1 486.7C304.7 492.2 293.2 496.1 284.2 498.8C275.1 501.5 268.2 502.1 260.7 503C253.3 503.9 243 503.9 239.5 504.1"/><path d="M332.3 278.4C333 279.9 334 282.1 336.4 287.2C338.8 292.3 343.6 301.6 346.6 309.2C349.5 316.8 352.4 324.6 354.2 332.6C355.9 340.7 357.1 349.2 357.1 357.6C357.1 365.9 356.3 373.8 354 382.7C351.8 391.5 348 402 343.4 410.7C338.8 419.3 333.1 427.5 326.5 434.4C320 441.4 312.6 447.2 304.2 452.4C295.9 457.5 284.1 462.3 276.3 465.2C268.6 468 263.8 468.4 257.6 469.4C251.5 470.3 242.5 470.6 239.5 470.8"/></g>
<path d="M404.5 422C420.4 425.1 467.4 432.9 500 440.7C532.6 448.5 566.7 457.9 600 469C633.3 480.1 670.8 495.1 700 507.5C729.2 520 754.5 532.5 775 543.7C795.5 555 812.8 568.2 823 575C833.2 581.8 833.8 582.9 836 584.5" fill="none" stroke="#ff0000" stroke-width="23.5"/>
<path d="M828.8 530.3C832.2 534.9 843.4 550.1 849.4 558.1C855.4 566.1 860.6 572.9 865 578.4C869.4 583.9 870.7 585.4 875.9 590.9C881.1 596.4 890.2 605.5 896.2 611.2C902.2 616.9 906.7 620.7 911.9 625.3C917.1 629.9 924.9 636.4 927.5 638.6C923.6 637.4 911.8 634.1 904 631.6C896.2 629.1 888.4 626.3 880.6 623.8C872.8 621.3 867.6 618.9 857.2 616.7C846.8 614.5 830.2 612.6 818.1 610.5C806 608.4 790.1 605 784.5 603.9L816 586.6L827.8 565.2Z" fill="#ff0000"/>
<path d="M228.1 741.7C235.1 747.2 255.5 764 270.3 775C285.2 786 301.6 797.6 317.2 807.8C332.8 817.9 348.4 827.3 364 835.9C379.6 844.5 395.3 852.4 410.9 859.4C426.5 866.4 444.1 873.4 457.8 878.1C471.5 882.8 481.3 885.1 493 887.5C504.7 889.9 516.4 892 528.1 892.6C539.8 893.2 551.6 892 563.3 891C575 890 586.7 888.2 598.4 886.3C610.1 884.3 623.7 881.5 633.6 879.3C643.5 877.1 651.8 875 657.6 873C663.4 871 665.5 869 668.5 867C671.5 865 674.5 861.8 675.7 860.8L685.1 828.6L702.1 854.9L710.9 832.1L734.9 843.8L734.9 816.3L761.3 831.5L761.3 806.3L790 828L790 802.2L818.1 817.4L818.1 792.2L839.2 815.1L839.2 788.1L958 749" fill="none" stroke="#ff0000" stroke-width="9.6" stroke-linejoin="miter" stroke-miterlimit="12"/>
<path d="M984.2 737.9C966 736 948 729 936.8 717.4C943 729 950 738 957.3 744.4L957.3 753.8C957 765 957.5 776 960.2 786.6C964 768 972 751 984.2 737.9Z" fill="#ff0000"/>
<path d="M971.9 704.5L1002.4 768.4" stroke="#ff0000" stroke-width="9.6" fill="none"/>
<g opacity="0.5" fill="#ff0000">
<path d="M927.4 638.8L929.2 639.9L931.5 641.2L934.3 642.8L937.3 644.5L940.7 646.3L944.3 648.3L947.9 650.3L951.7 652.4L955.4 654.4L959 656.4L962.6 658.4L966.1 660.3L969.7 662.3L973.4 664.3L977.1 666.4L981 668.5L985 670.8L989.3 673.1L993.8 675.5L998.5 678.1L1003.5 680.8L1008.8 683.7L1014.3 686.6L1020.1 689.7L1026 692.9L1032 696.1L1038.1 699.4L1044.3 702.7L1050.5 705.9L1056.8 709.2L1063.1 712.4L1069.5 715.7L1076 719.1L1082.6 722.4L1089.3 725.8L1096 729.2L1102.8 732.6L1109.5 736L1116.3 739.3L1123.1 742.7L1129.9 745.9L1136.6 749.2L1143.3 752.4L1150.1 755.6L1156.9 758.8L1163.8 762L1170.7 765.2L1177.7 768.5L1184.9 771.7L1192.2 775L1199.8 778.4L1207.7 781.9L1215.8 785.5L1224 789.1L1232.2 792.7L1240.4 796.3L1248.5 799.7L1256.3 803L1263.9 806.2L1271 809.2L1277.7 811.9L1284.2 814.4L1290.4 816.9L1296.4 819.2L1302.3 821.4L1308 823.5L1313.5 825.5L1319 827.5L1324.4 829.4L1329.8 831.2L1335 832.9L1340 834.5L1344.8 836L1349.4 837.4L1354 838.7L1358.6 840L1363.3 841.3L1368.1 842.5L1373.1 843.8L1378.4 845.1L1384 846.5L1389.8 847.8L1395.8 849.2L1401.9 850.5L1408.1 851.8L1414.4 853.2L1420.7 854.4L1427 855.7L1433.2 857L1439.4 858.2L1445.5 859.4L1451.6 860.6L1457.7 861.7L1463.8 862.8L1470 864L1476.1 865.1L1482.2 866.1L1488.3 867.2L1494.4 868.3L1500.5 869.3L1506.6 870.4L1512.7 871.4L1518.8 872.5L1524.9 873.5L1531 874.5L1537.1 875.5L1543.2 876.5L1549.2 877.5L1555.3 878.5L1561.4 879.5L1567.5 880.5L1573.6 881.4L1579.7 882.4L1585.8 883.4L1591.9 884.4L1598 885.4L1604.1 886.3L1610.2 887.3L1616.3 888.2L1622.3 889.2L1628.4 890.1L1634.5 891L1640.6 891.9L1646.7 892.8L1652.8 893.7L1658.9 894.6L1665 895.5L1671 896.4L1677.1 897.3L1683.2 898.2L1689.2 899L1695.1 899.8L1700.8 900.6L1706.6 901.4L1712.4 902.2L1718.2 903.1L1724.3 903.9L1730.5 904.8L1737.1 905.8L1743.9 906.8L1751.3 907.9L1759.1 909.1L1767.2 910.3L1775.6 911.6L1784.1 912.9L1792.6 914.3L1801 915.6L1809.2 916.9L1817.1 918.3L1824.6 919.5L1831.8 920.6L1838.8 921.8L1845.7 922.9L1852.4 924L1858.9 925.2L1865.3 926.3L1871.5 927.4L1877.6 928.4L1883.6 929.5L1889.4 930.6L1895.3 931.6L1901.3 932.7L1907.2 933.8L1913.1 935L1918.8 936.1L1924.1 937.1L1929 938L1933.4 938.9L1937.1 939.5L1940.1 940L1941.1 935.2L1938.2 934.4L1934.6 933.4L1930.3 932.3L1925.4 931L1920.2 929.7L1914.6 928.3L1908.7 926.9L1902.8 925.5L1896.9 924.1L1891 922.7L1885.2 921.4L1879.3 920.1L1873.2 918.8L1867 917.4L1860.7 916.1L1854.2 914.7L1847.5 913.3L1840.6 911.9L1833.6 910.6L1826.4 909.2L1818.9 907.8L1811 906.5L1802.7 905.1L1794.3 903.7L1785.8 902.3L1777.3 901L1768.9 899.6L1760.7 898.3L1752.9 897.1L1745.6 895.9L1738.7 894.8L1732.2 893.8L1725.9 892.9L1719.8 892L1714 891.1L1708.2 890.2L1702.4 889.4L1696.7 888.6L1690.8 887.7L1684.9 886.8L1678.8 885.9L1672.7 885L1666.6 884.1L1660.5 883.2L1654.5 882.3L1648.4 881.4L1642.3 880.5L1636.2 879.6L1630.2 878.7L1624.1 877.8L1618 876.8L1611.9 875.9L1605.9 875L1599.8 874L1593.7 873L1587.6 872.1L1581.5 871.1L1575.4 870.1L1569.4 869.1L1563.3 868.1L1557.2 867.1L1551.1 866L1545.1 865L1539 864L1533 862.9L1526.9 861.9L1520.8 860.8L1514.8 859.7L1508.7 858.6L1502.6 857.5L1496.5 856.4L1490.5 855.3L1484.4 854.2L1478.3 853.1L1472.2 851.9L1466.1 850.8L1460 849.6L1454 848.4L1447.9 847.2L1441.9 845.9L1435.8 844.6L1429.6 843.3L1423.4 841.9L1417.1 840.5L1410.9 839.1L1404.8 837.7L1398.8 836.3L1392.9 834.9L1387.2 833.5L1381.7 832.1L1376.5 830.7L1371.6 829.4L1366.9 828.1L1362.3 826.8L1357.8 825.5L1353.4 824.2L1348.9 822.8L1344.2 821.3L1339.4 819.7L1334.2 818L1328.9 816.2L1323.6 814.4L1318.2 812.5L1312.7 810.5L1307 808.5L1301.3 806.4L1295.3 804.1L1289.1 801.8L1282.7 799.3L1276 796.6L1268.9 793.8L1261.4 790.8L1253.5 787.7L1245.4 784.4L1237.2 781L1228.9 777.5L1220.7 774.1L1212.6 770.6L1204.6 767.3L1197 764L1189.7 760.9L1182.5 757.8L1175.4 754.7L1168.5 751.6L1161.6 748.6L1154.7 745.5L1148 742.4L1141.2 739.4L1134.4 736.3L1127.6 733.2L1120.8 730L1113.9 726.9L1107.1 723.7L1100.2 720.5L1093.4 717.3L1086.7 714.1L1080 710.9L1073.4 707.8L1066.9 704.7L1060.6 701.6L1054.2 698.6L1047.9 695.5L1041.6 692.5L1035.4 689.4L1029.3 686.4L1023.3 683.5L1017.4 680.6L1011.8 677.9L1006.4 675.2L1001.3 672.8L996.4 670.4L991.8 668.2L987.4 666.1L983.3 664.1L979.3 662.2L975.4 660.3L971.6 658.5L967.9 656.8L964.3 655L960.6 653.3L956.8 651.6L953 649.8L949.1 648L945.3 646.2L941.6 644.6L938.1 643L934.9 641.5L932 640.3L929.6 639.2L927.6 638.4Z"/>
<path d="M1927.7 896.8L2015.6 954.8L1911.6 974.7L1941 941L1940 934Z"/>
<path d="M1115 738.4L1115.7 739L1116.7 739.9L1117.9 740.8L1119.1 741.9L1120.4 743L1121.7 744.2L1123 745.4L1124.3 746.6L1125.3 747.6L1126.2 748.6L1127 749.6L1127.8 750.5L1128.4 751.4L1129 752.2L1129.6 753L1130.1 753.8L1130.5 754.6L1131 755.6L1131.5 756.7L1132 758L1132.4 759.4L1132.9 761.1L1133.4 762.9L1133.8 764.8L1134.2 766.8L1134.6 768.8L1135 770.8L1135.3 772.7L1135.5 774.5L1135.7 776.2L1135.8 777.6L1135.9 779L1135.9 780.2L1135.9 781.3L1135.9 782.4L1135.8 783.6L1135.6 784.8L1135.5 786.1L1135.2 787.6L1135 789.2L1134.7 790.9L1134.3 792.7L1133.9 794.5L1133.5 796.5L1133 798.5L1132.5 800.6L1131.9 802.8L1131.3 805.1L1130.6 807.5L1129.9 810L1129.2 812.7L1128.3 815.5L1127.4 818.4L1126.5 821.5L1125.5 824.7L1124.5 827.9L1123.5 831.1L1122.5 834.3L1121.6 837.5L1120.7 840.6L1119.8 843.6L1118.9 846.6L1118.1 849.6L1117.2 852.6L1116.4 855.6L1115.6 858.6L1114.8 861.6L1114 864.5L1113.3 867.5L1112.6 870.4L1112 873.3L1111.4 876.3L1110.8 879.2L1110.2 882.1L1109.7 885L1109.2 887.9L1108.8 890.7L1108.4 893.4L1108.1 896.1L1107.8 898.7L1107.5 901.2L1107.3 903.5L1107.2 905.7L1107 907.8L1107 909.9L1106.9 912.1L1107 914.2L1107 916.5L1107.1 918.9L1107.3 921.4L1107.4 924L1107.6 926.5L1107.8 929.2L1108 931.9L1108.3 934.7L1108.7 937.6L1109.1 940.7L1109.6 944.1L1110.2 947.7L1111 951.5L1111.7 955.7L1112.6 960.3L1113.5 965.1L1114.6 970.2L1115.7 975.4L1116.9 980.7L1118.1 986.1L1119.4 991.5L1120.8 996.8L1122.2 1002L1123.8 1007.2L1125.4 1012.4L1127.2 1017.7L1129 1023.1L1130.8 1028.4L1132.7 1033.6L1134.6 1038.8L1136.6 1043.8L1138.5 1048.7L1140.5 1053.4L1142.5 1057.8L1144.6 1062.2L1146.7 1066.4L1148.8 1070.5L1150.9 1074.5L1153.1 1078.3L1155.2 1082L1157.3 1085.5L1159.5 1088.9L1161.5 1092.2L1163.6 1095.4L1165.8 1098.4L1167.9 1101.2L1170 1104L1172.2 1106.5L1174.2 1109L1176.3 1111.3L1178.2 1113.4L1180.1 1115.5L1182 1117.4L1183.6 1119.2L1185 1120.7L1186.3 1122L1187.6 1123.1L1188.9 1124.3L1190.3 1125.4L1191.8 1126.6L1193.6 1127.9L1195.7 1129.4L1198.3 1131.3L1201.3 1133.5L1204.6 1135.8L1208.2 1138.3L1212 1140.9L1216.1 1143.6L1220.3 1146.5L1224.8 1149.5L1229.5 1152.7L1234.4 1155.9L1239.4 1159.3L1244.7 1162.8L1250.3 1166.6L1256.2 1170.5L1262.3 1174.6L1268.6 1178.7L1275 1182.9L1281.4 1187.2L1287.8 1191.4L1294.1 1195.6L1300.2 1199.7L1306.4 1203.9L1312.8 1208.1L1319.2 1212.4L1325.6 1216.8L1332.1 1221.1L1338.3 1225.4L1344.4 1229.5L1350.3 1233.4L1355.8 1237.1L1360.9 1240.5L1365.4 1243.6L1369.5 1246.4L1373.2 1248.9L1376.6 1251.2L1379.9 1253.4L1383.1 1255.5L1386.3 1257.7L1389.7 1260L1393.4 1262.5L1397.5 1265.2L1401.9 1268.1L1406.5 1271.2L1411.3 1274.3L1416.3 1277.6L1421.4 1280.9L1426.5 1284.3L1431.6 1287.6L1436.8 1291L1441.9 1294.3L1446.9 1297.5L1451.9 1300.7L1456.9 1303.8L1461.9 1307L1466.9 1310.2L1471.9 1313.3L1476.9 1316.4L1481.9 1319.6L1486.9 1322.7L1492 1325.7L1497 1328.8L1502 1331.8L1507.1 1334.8L1512.1 1337.7L1517.1 1340.7L1522.2 1343.6L1527.2 1346.5L1532.3 1349.4L1537.4 1352.2L1542.4 1355L1547.5 1357.8L1552.7 1360.5L1557.9 1363.3L1563.2 1366L1568.4 1368.8L1573.7 1371.4L1578.9 1374.1L1584.1 1376.6L1589.1 1379.1L1593.9 1381.4L1598.6 1383.7L1603.3 1385.9L1608.1 1388.1L1612.9 1390.2L1617.6 1392.3L1622.1 1394.2L1626.4 1396.1L1630.3 1397.7L1633.8 1399.2L1636.8 1400.4L1639.2 1401.4L1640.8 1397.8L1638.5 1396.6L1635.6 1395.2L1632.2 1393.5L1628.4 1391.7L1624.2 1389.7L1619.7 1387.5L1615.1 1385.3L1610.5 1383L1605.8 1380.7L1601.3 1378.3L1596.7 1375.9L1591.9 1373.5L1587 1370.9L1582 1368.2L1576.8 1365.5L1571.7 1362.7L1566.5 1359.8L1561.3 1357L1556.2 1354.1L1551.2 1351.2L1546.2 1348.4L1541.3 1345.4L1536.3 1342.5L1531.3 1339.5L1526.4 1336.5L1521.5 1333.5L1516.5 1330.4L1511.6 1327.3L1506.6 1324.2L1501.7 1321.1L1496.7 1318L1491.8 1314.9L1486.9 1311.7L1481.9 1308.5L1477 1305.3L1472 1302.1L1467.1 1298.8L1462.2 1295.6L1457.2 1292.4L1452.3 1289.1L1447.3 1285.8L1442.3 1282.5L1437.2 1279.1L1432.1 1275.7L1427 1272.4L1422 1269L1417.1 1265.7L1412.3 1262.5L1407.7 1259.4L1403.3 1256.5L1399.2 1253.8L1395.6 1251.3L1392.2 1249L1388.9 1246.8L1385.7 1244.7L1382.5 1242.5L1379.1 1240.2L1375.4 1237.7L1371.3 1234.9L1366.7 1231.8L1361.6 1228.4L1356.1 1224.7L1350.3 1220.8L1344.2 1216.6L1337.9 1212.4L1331.5 1208.1L1325.1 1203.7L1318.6 1199.4L1312.3 1195.1L1306.1 1191L1299.9 1186.9L1293.6 1182.7L1287.2 1178.4L1280.8 1174.2L1274.4 1170L1268.1 1165.8L1262 1161.8L1256.1 1157.8L1250.5 1154.1L1245.2 1150.6L1240.2 1147.2L1235.3 1144L1230.7 1140.8L1226.2 1137.8L1221.9 1134.9L1217.9 1132.2L1214.1 1129.6L1210.6 1127.2L1207.4 1124.9L1204.4 1122.8L1201.9 1120.9L1199.8 1119.4L1198.1 1118.2L1196.8 1117.1L1195.6 1116.2L1194.6 1115.4L1193.6 1114.4L1192.5 1113.3L1191.2 1111.9L1189.6 1110.3L1187.8 1108.3L1186 1106.4L1184.1 1104.3L1182.2 1102.1L1180.2 1099.8L1178.2 1097.4L1176.3 1094.9L1174.3 1092.2L1172.3 1089.4L1170.3 1086.5L1168.3 1083.3L1166.3 1080.1L1164.3 1076.6L1162.2 1073.1L1160.1 1069.4L1158.1 1065.6L1156 1061.7L1154 1057.6L1152.1 1053.4L1150.1 1049.2L1148.2 1044.7L1146.3 1040L1144.4 1035.1L1142.6 1030L1140.7 1024.9L1138.9 1019.7L1137.1 1014.5L1135.4 1009.2L1133.8 1004.1L1132.3 999.1L1130.8 994L1129.4 988.9L1128 983.6L1126.7 978.4L1125.4 973.2L1124.2 968L1123.1 963.1L1122.1 958.3L1121.1 953.9L1120.3 949.8L1119.6 946L1119 942.6L1118.5 939.4L1118.1 936.4L1117.8 933.6L1117.5 930.9L1117.3 928.4L1117.1 925.9L1116.9 923.4L1116.7 920.8L1116.6 918.4L1116.5 916.2L1116.5 914.1L1116.4 912.1L1116.5 910.2L1116.5 908.2L1116.6 906.3L1116.8 904.2L1117 902.1L1117.2 899.7L1117.5 897.3L1117.8 894.7L1118.2 892.1L1118.6 889.4L1119.1 886.6L1119.6 883.8L1120.1 881L1120.7 878.2L1121.3 875.3L1121.9 872.5L1122.5 869.7L1123.2 866.8L1124 864L1124.7 861.1L1125.5 858.1L1126.4 855.2L1127.2 852.2L1128.1 849.2L1128.9 846.2L1129.8 843.2L1130.7 840.2L1131.6 837.1L1132.6 833.9L1133.6 830.7L1134.6 827.5L1135.6 824.3L1136.5 821.2L1137.4 818.2L1138.3 815.3L1139.1 812.6L1139.8 810L1140.4 807.6L1141.1 805.2L1141.7 803L1142.2 800.8L1142.7 798.7L1143.2 796.6L1143.6 794.6L1144 792.7L1144.3 790.8L1144.6 789L1144.9 787.4L1145.1 785.9L1145.2 784.4L1145.4 783L1145.4 781.5L1145.4 780L1145.4 778.5L1145.3 776.9L1145.1 775.2L1144.9 773.3L1144.5 771.3L1144.2 769.2L1143.7 767L1143.3 764.9L1142.8 762.7L1142.2 760.6L1141.6 758.6L1141 756.7L1140.4 754.9L1139.8 753.3L1139.2 751.9L1138.6 750.5L1137.9 749.3L1137.1 748.1L1136.4 747L1135.6 745.9L1134.8 744.9L1133.9 743.8L1133 742.7L1131.9 741.5L1130.6 740.2L1129.2 738.8L1127.8 737.5L1126.4 736.3L1125 735.1L1123.7 734L1122.6 733L1121.7 732.2L1121 731.6Z"/>
<path d="M1636.6 1359.4L1701.3 1427.1L1608.4 1424.1L1639 1403.5L1641.5 1396.5Z"/>
<path d="M1284.5 810.4L1285.3 810.9L1286.4 811.5L1287.7 812.1L1289.2 812.9L1290.8 813.7L1292.5 814.5L1294.2 815.3L1295.9 816.1L1297.5 817L1299.1 817.7L1300.6 818.5L1302.1 819.2L1303.6 819.9L1305 820.5L1306.4 821.2L1307.9 821.9L1309.4 822.7L1311 823.5L1312.7 824.5L1314.6 825.5L1316.8 826.6L1319.2 827.8L1321.7 829L1324.3 830.4L1326.9 831.8L1329.5 833.2L1332.1 834.6L1334.6 836.1L1336.9 837.5L1339 839L1341 840.3L1342.9 841.7L1344.6 843L1346.3 844.3L1347.8 845.6L1349.4 847.1L1351 848.6L1352.6 850.3L1354.3 852.1L1356.1 854.2L1358 856.5L1360 859.1L1362 861.8L1364.1 864.7L1366.2 867.7L1368.4 870.9L1370.5 874L1372.6 877.2L1374.8 880.4L1376.8 883.6L1378.9 886.7L1380.9 889.9L1382.9 893.2L1384.9 896.6L1387 899.9L1389 903.3L1391 906.7L1393.1 910L1395.1 913.2L1397.2 916.2L1399.2 919.2L1401.1 921.9L1402.9 924.6L1404.8 927.2L1406.7 929.8L1408.7 932.4L1410.7 935L1412.8 937.6L1415.1 940.3L1417.6 943L1420.2 945.9L1423.1 948.8L1426 951.8L1429.1 954.9L1432.2 957.9L1435.4 960.9L1438.6 963.8L1441.8 966.7L1445 969.4L1448 972.1L1451 974.5L1454 976.8L1456.9 979L1459.7 981.2L1462.6 983.2L1465.6 985.2L1468.6 987.3L1471.8 989.3L1475 991.4L1478.5 993.5L1482.2 995.7L1486.1 998L1490.1 1000.2L1494.2 1002.5L1498.4 1004.8L1502.7 1007.1L1506.9 1009.4L1511.2 1011.6L1515.4 1013.7L1519.6 1015.7L1523.6 1017.7L1527.5 1019.5L1531.3 1021.3L1535.1 1023L1538.9 1024.7L1542.8 1026.5L1546.9 1028.2L1551.2 1030L1555.8 1031.8L1560.7 1033.8L1566 1035.9L1571.6 1038L1577.5 1040.3L1583.6 1042.6L1589.9 1044.9L1596.3 1047.3L1602.7 1049.6L1609.1 1051.9L1615.4 1054.1L1621.6 1056.3L1627.7 1058.4L1633.8 1060.5L1639.9 1062.6L1646.1 1064.6L1652.2 1066.6L1658.3 1068.6L1664.4 1070.6L1670.5 1072.5L1676.6 1074.4L1682.6 1076.4L1688.6 1078.3L1694.5 1080.1L1700.2 1081.8L1705.9 1083.6L1711.7 1085.3L1717.5 1087.1L1723.6 1088.9L1729.8 1090.8L1736.3 1092.7L1743.2 1094.8L1750.6 1097L1758.5 1099.2L1766.7 1101.6L1775.1 1104.1L1783.7 1106.6L1792.3 1109.1L1800.9 1111.5L1809.2 1113.9L1817.1 1116.2L1824.7 1118.4L1831.9 1120.5L1838.9 1122.4L1845.7 1124.3L1852.4 1126.2L1858.8 1128L1865.2 1129.8L1871.4 1131.5L1877.4 1133.2L1883.3 1134.8L1889.1 1136.4L1895 1138L1901 1139.7L1907 1141.3L1912.9 1142.9L1918.5 1144.5L1923.9 1145.9L1928.8 1147.3L1933.2 1148.5L1936.9 1149.4L1939.9 1150.2L1941.3 1145.4L1938.4 1144.4L1934.7 1143.3L1930.4 1141.9L1925.5 1140.4L1920.2 1138.7L1914.6 1137L1908.8 1135.2L1902.8 1133.3L1896.9 1131.5L1891.1 1129.7L1885.3 1128L1879.4 1126.2L1873.4 1124.3L1867.3 1122.5L1861 1120.6L1854.6 1118.6L1848 1116.6L1841.2 1114.6L1834.2 1112.4L1827.1 1110.3L1819.5 1108L1811.6 1105.7L1803.3 1103.2L1794.8 1100.7L1786.2 1098.2L1777.6 1095.7L1769.2 1093.1L1761 1090.7L1753.2 1088.4L1745.8 1086.2L1738.9 1084.1L1732.4 1082.2L1726.1 1080.3L1720.1 1078.5L1714.3 1076.7L1708.5 1075L1702.8 1073.2L1697.1 1071.5L1691.3 1069.7L1685.4 1067.8L1679.3 1065.9L1673.2 1063.9L1667.1 1062L1661 1060L1655 1058L1648.9 1056L1642.8 1054L1636.7 1052L1630.6 1049.9L1624.6 1047.8L1618.4 1045.6L1612.1 1043.4L1605.8 1041.1L1599.4 1038.8L1593 1036.5L1586.8 1034.2L1580.7 1031.9L1574.8 1029.6L1569.2 1027.5L1564 1025.4L1559.1 1023.5L1554.6 1021.6L1550.4 1019.9L1546.4 1018.2L1542.5 1016.5L1538.8 1014.8L1535.1 1013.2L1531.3 1011.4L1527.5 1009.6L1523.6 1007.7L1519.5 1005.6L1515.3 1003.5L1511.1 1001.4L1506.9 999.2L1502.7 996.9L1498.5 994.7L1494.5 992.4L1490.5 990.2L1486.8 988L1483.2 985.8L1479.8 983.7L1476.6 981.7L1473.5 979.7L1470.6 977.8L1467.8 975.8L1465 973.9L1462.3 971.8L1459.5 969.7L1456.7 967.5L1453.8 965.1L1450.8 962.6L1447.7 959.9L1444.6 957.2L1441.5 954.3L1438.4 951.4L1435.4 948.4L1432.4 945.5L1429.5 942.6L1426.8 939.7L1424.3 937L1421.9 934.3L1419.7 931.8L1417.7 929.3L1415.8 926.9L1413.9 924.4L1412.1 922L1410.3 919.4L1408.5 916.8L1406.6 914.1L1404.6 911.2L1402.7 908.2L1400.7 905.2L1398.7 902L1396.7 898.7L1394.7 895.3L1392.7 891.9L1390.6 888.5L1388.5 885.2L1386.5 881.9L1384.4 878.6L1382.3 875.5L1380.1 872.2L1378 869L1375.8 865.8L1373.6 862.6L1371.5 859.5L1369.3 856.5L1367.2 853.6L1365.1 850.9L1363 848.4L1361 846.2L1359.2 844.1L1357.3 842.2L1355.6 840.5L1353.8 838.9L1352 837.4L1350.2 835.9L1348.2 834.4L1346.2 833L1344.1 831.5L1341.7 830L1339.1 828.4L1336.5 826.9L1333.7 825.4L1330.9 824L1328.2 822.6L1325.5 821.3L1322.9 820.1L1320.5 818.9L1318.3 817.9L1316.2 817L1314.3 816.2L1312.4 815.6L1310.7 815L1309.1 814.5L1307.5 814L1305.9 813.6L1304.4 813.1L1302.9 812.7L1301.3 812.2L1299.7 811.7L1297.9 811.1L1296 810.6L1294.2 810L1292.4 809.5L1290.7 809L1289.1 808.5L1287.7 808.1L1286.5 807.8L1285.5 807.6Z"/>
<path d="M1930.9 1101.3L2015.6 1167.5L1908.4 1179.3L1940 1151.5L1942 1144.5Z"/>
</g>
<g style="filter:grayscale(1)">
<text x="689.39" y="164.8" font-size="83.1" font-weight="bold" fill="#000" textLength="253.77" lengthAdjust="spacingAndGlyphs">Figure</text>
<text x="1070.60" y="164.8" font-size="83.1" font-weight="bold" fill="#000" textLength="291.05" lengthAdjust="spacingAndGlyphs">Normal</text>
<text x="158.49" y="355.2" font-size="49" font-weight="bold" fill="#000" textLength="129.83" lengthAdjust="spacingAndGlyphs">Sinus</text>
<text x="139.46" y="404.7" font-size="49" font-weight="bold" fill="#000" textLength="178.83" lengthAdjust="spacingAndGlyphs">Rhythm</text>
<text x="1080.76" y="365.3" font-size="47.5" font-weight="bold" fill="#000" textLength="29.32" lengthAdjust="spacingAndGlyphs">L</text>
<text x="1120.88" y="365.3" font-size="47.5" font-weight="bold" fill="#000" textLength="157.16" lengthAdjust="spacingAndGlyphs">Atrium</text>
<text x="1603.34" y="666.1" font-size="47.5" font-weight="bold" fill="#000" textLength="88.47" lengthAdjust="spacingAndGlyphs">Left</text>
<text x="1704.23" y="666.1" font-size="47.5" font-weight="bold" fill="#000" textLength="206.56" lengthAdjust="spacingAndGlyphs">Ventricle</text>
<text x="344.43" y="1168.6" font-size="47.5" font-weight="bold" fill="#000" textLength="30.71" lengthAdjust="spacingAndGlyphs">R</text>
<text x="387.98" y="1168.6" font-size="47.5" font-weight="bold" fill="#000" textLength="156.95" lengthAdjust="spacingAndGlyphs">Atrium</text>
<text x="929.79" y="1370" font-size="47.5" font-weight="bold" fill="#000" textLength="121.68" lengthAdjust="spacingAndGlyphs">Right</text>
<text x="1064.13" y="1370" font-size="47.5" font-weight="bold" fill="#000" textLength="206.26" lengthAdjust="spacingAndGlyphs">Ventricle</text>
<path d="M988.9 108.7L988.9 164.7L976.6 164.7L976.6 122.5Q971 124.5 966.1 125.4L966.1 116.4Q975 114.5 980.4 108.7Z" fill="#000"/>
<rect x="1021.1" y="137.2" width="23.9" height="10.8" fill="#000"/>
<text x="1628.63" y="1619.8" font-size="31" font-weight="bold" fill="#b2b2b2" textLength="84.05" lengthAdjust="spacingAndGlyphs">Pavel</text>
<text x="1719.58" y="1619.8" font-size="31" font-weight="bold" fill="#b2b2b2" textLength="210.27" lengthAdjust="spacingAndGlyphs">Antiperovtich</text>
<text x="1651.16" y="1648" font-size="31" font-weight="bold" fill="#b2b2b2" textLength="264.48" lengthAdjust="spacingAndGlyphs">(CardioGuide.ca)</text>
<text x="880.81" y="495.1" font-size="25" font-weight="normal" fill="#000" textLength="153.39" lengthAdjust="spacingAndGlyphs" transform="rotate(2.3 882.9 495.1)">Fast Pathway</text>
<text x="688.84" y="791.7" font-size="25" font-weight="normal" fill="#000" textLength="162.34" lengthAdjust="spacingAndGlyphs" transform="rotate(-17.3 690 791.7)">Slow Pathway</text>
<text x="1021.89" y="640.6" font-size="25" font-weight="normal" fill="#000" textLength="159.69" lengthAdjust="spacingAndGlyphs" transform="rotate(24.7 1024.1 640.6)">Bundle of His</text>
<text x="1273.31" y="709.2" font-size="25" font-weight="normal" fill="#000" textLength="226.01" lengthAdjust="spacingAndGlyphs" transform="rotate(17.3 1275.5 709.2)">Left Bundle Branch</text>
<text x="1621.26" y="809.3" font-size="25" font-weight="normal" fill="#000" textLength="256.21" lengthAdjust="spacingAndGlyphs" transform="rotate(10.4 1623.4 809.3)">Left Posterior Fascicle</text>
<text x="1581.41" y="1120" font-size="25" font-weight="normal" fill="#000" textLength="247.56" lengthAdjust="spacingAndGlyphs" transform="rotate(13.1 1583.6 1120)">Left Anterior Fascicle</text>
<text x="1313.84" y="1137.5" font-size="25" font-weight="normal" fill="#000" textLength="240.68" lengthAdjust="spacingAndGlyphs" transform="rotate(31.9 1316 1137.5)">Right Bundle Branch</text>
</g>
</svg>
</body></html>
